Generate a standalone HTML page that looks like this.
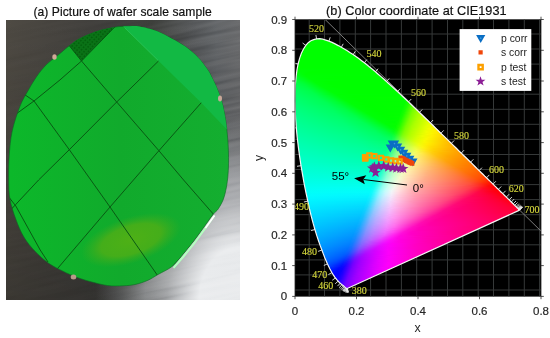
<!DOCTYPE html>
<html><head><meta charset="utf-8"><style>
html,body{margin:0;padding:0}
body{width:550px;height:338px;background:#fff;position:relative;overflow:hidden}
.t{position:absolute;font-family:"Liberation Sans",Arial,sans-serif;color:#111;white-space:nowrap;-webkit-text-stroke:0.2px #111}
#cie i{position:absolute;display:block}
</style></head><body>
<div class="t" style="left:33.4px;top:2.5px;font-size:12.1px;letter-spacing:0.07px;line-height:19px">(a) Picture of wafer scale sample</div>
<div class="t" style="left:326px;top:2.5px;font-size:12.7px;letter-spacing:0.05px;line-height:17px">(b) Color coordinate at CIE1931</div>
<svg width="550" height="338" style="position:absolute;left:0;top:0" viewBox="0 0 550 338">
<defs>
<pattern id="dots" patternUnits="userSpaceOnUse" width="3.2" height="3.2" patternTransform="rotate(40)"><circle cx="1.6" cy="1.6" r="0.9" fill="#005808" fill-opacity="0.75"/></pattern>
<clipPath id="pc"><rect x="6" y="20" width="234" height="280"/></clipPath>
<clipPath id="wc"><path d="M130,26.2C133.4,26.2 134.9,25.8 139.4,26.6C143.9,27.5 151.7,29.3 157.1,31.3C162.5,33.3 167.2,36.2 171.9,38.7C176.6,41.2 180.8,43.4 185.2,46.5C189.5,49.6 194.3,53.6 198,57.5C201.7,61.4 205.2,66.3 207.6,69.7C210,73.1 210.5,74.7 212.2,78.1C213.9,81.5 216,85.7 217.8,90.3C219.6,94.9 221.4,99.6 222.8,105.5C224.2,111.4 225.5,118.1 226.4,125.7C227.3,133.3 228.2,142.5 228.4,150.9C228.7,159.3 228.6,168.6 227.9,176.2C227.2,183.8 225.9,191 224.3,196.4C222.7,201.8 220.4,205.5 218.5,208.5C216.6,211.5 215.4,211.4 213,214.5C210.6,217.6 207.3,222.4 204,227C200.7,231.6 196.7,237.2 193,242C189.3,246.8 185.5,251.4 182,255.5C178.5,259.6 176,263.3 172,266.5C168,269.7 162,272.2 158,274.5C154,276.8 151.7,278.6 147.9,280.3C144.1,282 139.2,283.6 135,284.5C130.8,285.4 127.6,285.6 123,285.8C118.4,286 113,286.2 107.5,285.5C102,284.8 95.2,282.9 90,281.5C84.8,280.1 80.5,278.7 76,277C71.5,275.3 67.6,273.5 63,271.2C58.4,268.9 52.9,266.3 48.3,263C43.7,259.7 39.4,255.9 35.3,251.6C31.2,247.3 27.1,242.4 23.9,237C20.6,231.6 18.1,225.3 15.8,219.1C13.5,212.8 11.2,206 10,199.5C8.8,193 8.8,187.2 8.7,180C8.6,172.8 8.6,164.2 9.2,156C9.8,147.8 10.4,139.4 12.2,131.1C14,122.8 17.3,113.1 20,106.2C22.7,99.3 25.8,94.7 28.6,89.7C31.4,84.7 34,80.4 36.9,76.2C39.8,72 42.8,68.2 46.2,64.8C49.7,61.3 53.6,58.8 57.6,55.5C61.6,52.2 66.3,48 70,45.2C73.7,42.4 75.8,40.7 80,38.5C84.2,36.3 90.5,33.6 95,32C99.5,30.4 103,29.7 107,28.8C111,27.9 114.9,27 118.7,26.6C122.5,26.2 126.5,26.2 130,26.2Z"/></clipPath>
<linearGradient id="bg1" gradientUnits="userSpaceOnUse" x1="6" y1="0" x2="240" y2="0">
<stop offset="0" stop-color="#4c4841"/><stop offset="0.45" stop-color="#3e3d3b"/><stop offset="0.62" stop-color="#383a36"/><stop offset="0.8" stop-color="#4c4e50"/><stop offset="0.9" stop-color="#5a5d60"/><stop offset="1" stop-color="#606163"/></linearGradient>
<linearGradient id="bgv" x1="0" y1="0" x2="0" y2="1"><stop offset="0" stop-color="#000" stop-opacity="0"/><stop offset="1" stop-color="#000" stop-opacity="0.25"/></linearGradient>
<radialGradient id="bgl" gradientUnits="userSpaceOnUse" cx="240" cy="300" r="170" gradientTransform="translate(240 300) scale(1 1.3) translate(-240 -300)">
<stop offset="0" stop-color="#e6e8ea"/><stop offset="0.24" stop-color="#e8eaec"/><stop offset="0.43" stop-color="#dcdee2" stop-opacity="0.66"/><stop offset="0.56" stop-color="#c8cacf" stop-opacity="0.57"/><stop offset="0.7" stop-color="#b0b4b8" stop-opacity="0.27"/><stop offset="0.85" stop-color="#a0a4a8" stop-opacity="0"/></radialGradient>
<linearGradient id="tmg" gradientUnits="userSpaceOnUse" x1="90" y1="0" x2="190" y2="0"><stop offset="0" stop-color="#fff" stop-opacity="0.15"/><stop offset="1" stop-color="#fff"/></linearGradient><mask id="tm" maskUnits="userSpaceOnUse" x="0" y="0" width="550" height="338"><rect x="6" y="20" width="234" height="280" fill="url(#tmg)"/></mask>
<filter id="brush" x="0" y="0" width="1" height="1"><feTurbulence type="fractalNoise" baseFrequency="0.012 0.22" numOctaves="2" seed="7"/><feColorMatrix type="matrix" values="0.6 0.6 0 0 -0.22  0.6 0.6 0 0 -0.22  0.6 0.6 0 0 -0.22  0 0 0 0 1"/></filter>
<linearGradient id="wg" gradientUnits="userSpaceOnUse" x1="10" y1="0" x2="230" y2="0"><stop offset="0" stop-color="#0cb82a"/><stop offset="0.5" stop-color="#11aa2c"/><stop offset="1" stop-color="#14ae30"/></linearGradient>
<radialGradient id="blob" cx="0.5" cy="0.5" r="0.5">
<stop offset="0" stop-color="#4eb016" stop-opacity="1"/><stop offset="0.6" stop-color="#4aae18" stop-opacity="0.9"/><stop offset="1" stop-color="#3aac20" stop-opacity="0"/></radialGradient>
</defs>
<g clip-path="url(#pc)">
<rect x="6" y="20" width="234" height="280" fill="url(#bg1)"/><rect x="6" y="20" width="234" height="280" fill="url(#bgv)"/><rect x="6" y="20" width="234" height="280" fill="url(#bgl)"/><g mask="url(#tm)" style="mix-blend-mode:soft-light"><g transform="rotate(-12 180 150)" opacity="0.55"><rect x="-40" y="-40" width="360" height="400" filter="url(#brush)"/></g></g>
<path d="M130,26.2C133.4,26.2 134.9,25.8 139.4,26.6C143.9,27.5 151.7,29.3 157.1,31.3C162.5,33.3 167.2,36.2 171.9,38.7C176.6,41.2 180.8,43.4 185.2,46.5C189.5,49.6 194.3,53.6 198,57.5C201.7,61.4 205.2,66.3 207.6,69.7C210,73.1 210.5,74.7 212.2,78.1C213.9,81.5 216,85.7 217.8,90.3C219.6,94.9 221.4,99.6 222.8,105.5C224.2,111.4 225.5,118.1 226.4,125.7C227.3,133.3 228.2,142.5 228.4,150.9C228.7,159.3 228.6,168.6 227.9,176.2C227.2,183.8 225.9,191 224.3,196.4C222.7,201.8 220.4,205.5 218.5,208.5C216.6,211.5 215.4,211.4 213,214.5C210.6,217.6 207.3,222.4 204,227C200.7,231.6 196.7,237.2 193,242C189.3,246.8 185.5,251.4 182,255.5C178.5,259.6 176,263.3 172,266.5C168,269.7 162,272.2 158,274.5C154,276.8 151.7,278.6 147.9,280.3C144.1,282 139.2,283.6 135,284.5C130.8,285.4 127.6,285.6 123,285.8C118.4,286 113,286.2 107.5,285.5C102,284.8 95.2,282.9 90,281.5C84.8,280.1 80.5,278.7 76,277C71.5,275.3 67.6,273.5 63,271.2C58.4,268.9 52.9,266.3 48.3,263C43.7,259.7 39.4,255.9 35.3,251.6C31.2,247.3 27.1,242.4 23.9,237C20.6,231.6 18.1,225.3 15.8,219.1C13.5,212.8 11.2,206 10,199.5C8.8,193 8.8,187.2 8.7,180C8.6,172.8 8.6,164.2 9.2,156C9.8,147.8 10.4,139.4 12.2,131.1C14,122.8 17.3,113.1 20,106.2C22.7,99.3 25.8,94.7 28.6,89.7C31.4,84.7 34,80.4 36.9,76.2C39.8,72 42.8,68.2 46.2,64.8C49.7,61.3 53.6,58.8 57.6,55.5C61.6,52.2 66.3,48 70,45.2C73.7,42.4 75.8,40.7 80,38.5C84.2,36.3 90.5,33.6 95,32C99.5,30.4 103,29.7 107,28.8C111,27.9 114.9,27 118.7,26.6C122.5,26.2 126.5,26.2 130,26.2Z" fill="url(#wg)" stroke="#0a6a22" stroke-width="1" stroke-opacity="0.6"/>
<g clip-path="url(#wc)">
<path d="M116,20 L124.6,27.6 158.6,60.9 201.2,102.8 232,135 240,20Z" fill="#12b944"/>
<path d="M60,30 L68.6,44.8 81.5,61 112.7,29.1 112,20Z" fill="#0a7216"/><path d="M60,30 L68.6,44.8 81.5,61 112.7,29.1 112,20Z" fill="url(#dots)"/>
<ellipse cx="131" cy="240" rx="52" ry="23" transform="rotate(-18 131 240)" fill="url(#blob)"/>
<g stroke="#0a5a14" stroke-width="1" fill="none">
<polyline points="60,30 68.6,44.8 81.5,61 116.7,102 158.9,150.7 183.6,180 215,216"/>
<polyline points="15,88 34,101 69.3,149.7 110,207 160,279"/>
<polyline points="8,196 15.8,206 40.2,250 48,262"/>
<polyline points="116,26 112.7,29.1 81.5,61 60,79.9 34,101 5,122"/>
<polyline points="158.6,60.9 116.7,102 69.3,149.7 38.6,180 15.8,204.4 5,216"/>
<polyline points="201.2,102.8 158.9,150.7 110,207 58.1,267.9 50,278"/>
</g>
<path d="M124.6,27.6 158.6,60.9" stroke="#3fd070" stroke-width="1" opacity="0.5"/>
<path d="M213.5,214 L204.5,227 193.5,242 182.5,255.5 172.5,266.5" stroke="#0a6018" stroke-width="1" fill="none"/>
</g>
<path d="M214.5,215.5 L205.5,228 194.5,243 183.5,256.5 173.5,267.8" stroke="#b4ffc0" stroke-width="2" fill="none"/><path d="M214.5,215.5 L205.5,228" stroke="#fff" stroke-width="1.6"/>
<ellipse cx="54.5" cy="57" rx="2.2" ry="2.8" fill="#d0aa98"/>
<ellipse cx="220" cy="98.5" rx="2" ry="3" fill="#c8a898"/>
<ellipse cx="73.5" cy="277" rx="2.8" ry="2.5" fill="#b89a8a"/>
</g>
</svg>
<div style="position:absolute;left:295px;top:19.5px;width:246px;height:276.9px;background:#000"></div>
<svg width="550" height="338" style="position:absolute;left:0;top:0">
<defs><clipPath id="ac"><rect x="295" y="19.5" width="246" height="276.9"/></clipPath></defs>
<g clip-path="url(#ac)">
<path d="M309.2,19.5V296.4M324.5,19.5V296.4M339.9,19.5V296.4M355.3,19.5V296.4M370.6,19.5V296.4M386,19.5V296.4M401.4,19.5V296.4M416.7,19.5V296.4M432.1,19.5V296.4M447.5,19.5V296.4M462.8,19.5V296.4M478.2,19.5V296.4M493.5,19.5V296.4M508.9,19.5V296.4M524.3,19.5V296.4M539.6,19.5V296.4M295,290H541M295,274.9H541M295,259.9H541M295,244.8H541M295,229.8H541M295,214.7H541M295,199.6H541M295,184.6H541M295,169.5H541M295,154.5H541M295,139.4H541M295,124.3H541M295,109.3H541M295,94.2H541M295,79.2H541M295,64.1H541M295,49H541M295,34H541" stroke="#363939" stroke-width="1" fill="none"/>
<path d="M293.8,-11.2L545.8,235.8" stroke="#8a8a8a" stroke-width="0.9"/>
</g></svg>
<div id="cie" style="position:absolute;left:0;top:0;width:550px;height:338px;clip-path:polygon(347.3px 288.5px,347.3px 288.5px,347.3px 288.5px,347.3px 288.5px,347.3px 288.5px,347.3px 288.5px,347.2px 288.5px,347.2px 288.5px,347.2px 288.5px,347.2px 288.5px,347.2px 288.5px,347.2px 288.5px,347.1px 288.5px,347.1px 288.5px,347.1px 288.5px,347.1px 288.5px,347.1px 288.6px,347px 288.6px,347px 288.6px,347px 288.6px,347px 288.6px,346.9px 288.6px,346.9px 288.6px,346.9px 288.6px,346.8px 288.6px,346.8px 288.6px,346.8px 288.6px,346.7px 288.6px,346.7px 288.6px,346.6px 288.5px,346.6px 288.5px,346.5px 288.5px,346.5px 288.5px,346.4px 288.4px,346.3px 288.4px,346.2px 288.3px,346.1px 288.3px,346px 288.2px,345.9px 288.1px,345.8px 288px,345.7px 287.9px,345.6px 287.8px,345.4px 287.7px,345.3px 287.6px,345.1px 287.4px,344.9px 287.3px,344.7px 287.1px,344.5px 286.9px,344.3px 286.7px,344.1px 286.5px,343.9px 286.3px,343.6px 286.1px,343.3px 285.8px,343px 285.6px,342.7px 285.3px,342.3px 285px,341.9px 284.7px,341.5px 284.3px,341.1px 284px,340.7px 283.6px,340.2px 283.2px,339.7px 282.7px,339.2px 282.2px,338.6px 281.7px,338.1px 281.1px,337.5px 280.4px,336.8px 279.7px,336.2px 278.9px,335.4px 278px,334.6px 276.9px,333.8px 275.6px,332.9px 274.2px,331.9px 272.6px,330.9px 270.8px,329.8px 268.8px,328.7px 266.5px,327.5px 263.9px,326.2px 260.9px,324.8px 257.7px,323.4px 254.1px,321.9px 250px,320.2px 245.6px,318.5px 240.7px,316.7px 235.4px,314.9px 229.5px,313.1px 223.2px,311.3px 216.3px,309.5px 208.9px,307.8px 201.1px,306px 192.8px,304.2px 184px,302.6px 174.9px,301px 165.7px,299.6px 156.3px,298.3px 146.7px,297.2px 137.2px,296.3px 127.8px,295.6px 118.7px,295.2px 109.7px,294.9px 101px,295px 92.8px,295.3px 84.9px,296px 77.4px,296.9px 70.4px,298.1px 64px,299.6px 58.4px,301.4px 53.3px,303.5px 49px,305.8px 45.4px,308.2px 42.7px,310.9px 40.8px,313.7px 39.6px,316.6px 38.9px,319.6px 38.7px,322.7px 39.2px,325.8px 40.1px,328.9px 41.1px,332px 42.4px,335.1px 43.9px,338.3px 45.6px,341.3px 47.3px,344.3px 49px,347.3px 50.8px,350.2px 52.7px,353.1px 54.6px,355.9px 56.6px,358.8px 58.6px,361.6px 60.7px,364.4px 62.8px,367.2px 65px,369.9px 67.2px,372.7px 69.5px,375.5px 71.8px,378.2px 74.2px,381px 76.6px,383.7px 79px,386.5px 81.5px,389.2px 84px,392px 86.5px,394.7px 89px,397.5px 91.5px,400.2px 94.1px,403px 96.7px,405.7px 99.3px,408.5px 101.9px,411.2px 104.5px,413.9px 107.1px,416.7px 109.8px,419.4px 112.4px,422.1px 115px,424.9px 117.7px,427.6px 120.3px,430.3px 122.9px,433px 125.5px,435.6px 128.1px,438.3px 130.7px,440.9px 133.3px,443.6px 135.9px,446.2px 138.4px,448.7px 140.9px,451.3px 143.4px,453.8px 145.9px,456.3px 148.3px,458.8px 150.8px,461.2px 153.1px,463.6px 155.5px,466px 157.8px,468.3px 160px,470.6px 162.2px,472.8px 164.4px,474.9px 166.5px,477px 168.6px,479.1px 170.6px,481px 172.5px,482.9px 174.3px,484.7px 176.1px,486.5px 177.8px,488.2px 179.5px,489.9px 181.1px,491.5px 182.7px,493px 184.2px,494.4px 185.6px,495.8px 186.9px,497.1px 188.2px,498.4px 189.4px,499.6px 190.6px,500.7px 191.7px,501.8px 192.7px,502.8px 193.7px,503.7px 194.6px,504.6px 195.5px,505.5px 196.4px,506.3px 197.1px,507.1px 197.9px,507.8px 198.6px,508.5px 199.2px,509.1px 199.9px,509.7px 200.4px,510.3px 201px,510.8px 201.5px,511.3px 202px,511.8px 202.5px,512.3px 203px,512.8px 203.5px,513.2px 203.9px,513.6px 204.3px,514px 204.7px,514.4px 205px,514.7px 205.4px,515.1px 205.7px,515.4px 206px,515.7px 206.3px,516px 206.6px,516.2px 206.8px,516.5px 207px,516.7px 207.3px,516.9px 207.5px,517.1px 207.7px,517.3px 207.8px,517.4px 208px,517.6px 208.2px,517.8px 208.3px,517.9px 208.4px,518px 208.6px,518.1px 208.7px,518.2px 208.8px,518.3px 208.9px,518.4px 208.9px,518.5px 209px,518.5px 209.1px,518.6px 209.2px,518.7px 209.2px,518.7px 209.3px,518.8px 209.3px,518.9px 209.4px,518.9px 209.4px,519px 209.5px,519px 209.5px,519.1px 209.6px,519.1px 209.6px,519.2px 209.7px,519.2px 209.7px,519.3px 209.8px,519.3px 209.8px,519.4px 209.9px,519.4px 209.9px,519.4px 209.9px,519.5px 210px,519.5px 210px,519.5px 210px,519.5px 210px,519.5px 210px,519.5px 210.1px,519.6px 210.1px,519.6px 210.1px,519.6px 210.1px,519.6px 210.1px)"><i style="left:314px;top:38px;width:11px;height:1px;background:linear-gradient(90deg,#0f0 0.5px,#0f0 10.5px)"></i><i style="left:311px;top:39px;width:18px;height:1px;background:linear-gradient(90deg,#0f0 0.5px,#0f0 17.5px)"></i><i style="left:308px;top:40px;width:24px;height:1px;background:linear-gradient(90deg,#0f0 0.5px,#0f0 23.5px)"></i><i style="left:307px;top:41px;width:27px;height:1px;background:linear-gradient(90deg,#0f0 0.5px,#0f0 26.5px)"></i><i style="left:305px;top:42px;width:32px;height:1px;background:linear-gradient(90deg,#0f0 0.5px,#0f0 31.5px)"></i><i style="left:305px;top:43px;width:34px;height:1px;background:linear-gradient(90deg,#0f0 0.5px,#0f0 33.5px)"></i><i style="left:304px;top:44px;width:36px;height:1px;background:linear-gradient(90deg,#0f0 0.5px,#0f0 35.5px)"></i><i style="left:303px;top:45px;width:39px;height:1px;background:linear-gradient(90deg,#0f0 0.5px,#0f0 38.5px)"></i><i style="left:302px;top:46px;width:42px;height:1px;background:linear-gradient(90deg,#0f0 0.5px,#0f0 41.5px)"></i><i style="left:302px;top:47px;width:44px;height:1px;background:linear-gradient(90deg,#0f0 0.5px,#0f0 43.5px)"></i><i style="left:301px;top:48px;width:47px;height:1px;background:linear-gradient(90deg,#0f0 0.5px,#0f0 46.5px)"></i><i style="left:301px;top:49px;width:48px;height:1px;background:linear-gradient(90deg,#0f0 0.5px,#0f0 47.5px)"></i><i style="left:300px;top:50px;width:51px;height:1px;background:linear-gradient(90deg,#0f0 0.5px,#0f0 50.5px)"></i><i style="left:300px;top:51px;width:52px;height:1px;background:linear-gradient(90deg,#0f0 0.5px,#0f0 51.5px)"></i><i style="left:299px;top:52px;width:55px;height:1px;background:linear-gradient(90deg,#0f0 0.5px,#0f0 54.5px)"></i><i style="left:299px;top:53px;width:56px;height:1px;background:linear-gradient(90deg,#0f0 0.5px,#0f0 55.5px)"></i><i style="left:298px;top:54px;width:59px;height:1px;background:linear-gradient(90deg,#0f0 0.5px,#0f0 58.5px)"></i><i style="left:298px;top:55px;width:60px;height:1px;background:linear-gradient(90deg,#0f0 0.5px,#0f0 59.5px)"></i><i style="left:298px;top:56px;width:62px;height:1px;background:linear-gradient(90deg,#0f0 0.5px,#0f0 61.5px)"></i><i style="left:297px;top:57px;width:64px;height:1px;background:linear-gradient(90deg,#0f0 0.5px,#0f0 63.5px)"></i><i style="left:297px;top:58px;width:66px;height:1px;background:linear-gradient(90deg,#0f0 0.5px,#0f0 65.5px)"></i><i style="left:297px;top:59px;width:67px;height:1px;background:linear-gradient(90deg,#0f0 0.5px,#0f0 66.5px)"></i><i style="left:296px;top:60px;width:69px;height:1px;background:linear-gradient(90deg,#0f0 0.5px,#0f0 68.5px)"></i><i style="left:296px;top:61px;width:71px;height:1px;background:linear-gradient(90deg,#0f0 0.5px,#0f0 70.5px)"></i><i style="left:296px;top:62px;width:72px;height:1px;background:linear-gradient(90deg,#0f0 0.5px,#0f0 71.5px)"></i><i style="left:296px;top:63px;width:73px;height:1px;background:linear-gradient(90deg,#0f0 0.5px,#0f0 72.5px)"></i><i style="left:295px;top:64px;width:76px;height:1px;background:linear-gradient(90deg,#0f0 0.5px,#0f0 75.5px)"></i><i style="left:295px;top:65px;width:77px;height:1px;background:linear-gradient(90deg,#0f0 0.5px,#0f0 76.5px)"></i><i style="left:295px;top:66px;width:78px;height:1px;background:linear-gradient(90deg,#0f0 0.5px,#0f0 77.5px)"></i><i style="left:295px;top:67px;width:79px;height:1px;background:linear-gradient(90deg,#0f0 0.5px,#0f0 78.5px)"></i><i style="left:295px;top:68px;width:80px;height:1px;background:linear-gradient(90deg,#00ff01 0.5px,#0f0 79.5px)"></i><i style="left:294px;top:69px;width:82px;height:1px;background:linear-gradient(90deg,#00ff03 0.5px,#0f0 81.5px)"></i><i style="left:294px;top:70px;width:84px;height:1px;background:linear-gradient(90deg,#00ff06 0.5px,#0f0 24.5px,#0f0 83.5px)"></i><i style="left:294px;top:71px;width:85px;height:1px;background:linear-gradient(90deg,#00ff09 0.5px,#0f0 18.5px,#0f0 84.5px)"></i><i style="left:294px;top:72px;width:86px;height:1px;background:linear-gradient(90deg,#00ff0e 0.5px,#0f0 14.5px,#0f0 85.5px)"></i><i style="left:294px;top:73px;width:87px;height:1px;background:linear-gradient(90deg,#00ff14 0.5px,#00ff01 12.5px,#0f0 86.5px)"></i><i style="left:294px;top:74px;width:88px;height:1px;background:linear-gradient(90deg,#00ff1a 0.5px,#00ff02 11.5px,#0f0 87.5px)"></i><i style="left:294px;top:75px;width:90px;height:1px;background:linear-gradient(90deg,#00ff21 0.5px,#00ff03 12.5px,#0f0 89.5px)"></i><i style="left:293px;top:76px;width:92px;height:1px;background:linear-gradient(90deg,#00ff2b 0.5px,#00ff05 13.5px,#0f0 43.5px,#0f0 91.5px)"></i><i style="left:293px;top:77px;width:93px;height:1px;background:linear-gradient(90deg,#00ff32 0.5px,#00ff05 15.5px,#0f0 45.5px,#0f0 92.5px)"></i><i style="left:293px;top:78px;width:94px;height:1px;background:linear-gradient(90deg,#00ff38 0.5px,#00ff06 16.5px,#0f0 34.5px,#0f0 93.5px)"></i><i style="left:293px;top:79px;width:95px;height:1px;background:linear-gradient(90deg,#00ff3d 0.5px,#00ff05 18.5px,#0f0 48.5px,#0f0 94.5px)"></i><i style="left:293px;top:80px;width:96px;height:1px;background:linear-gradient(90deg,#00ff42 0.5px,#00ff20 11.5px,#00ff05 20.5px,#0f0 50.5px,#0f0 95.5px)"></i><i style="left:293px;top:81px;width:97px;height:1px;background:linear-gradient(90deg,#00ff46 0.5px,#00ff2a 10.5px,#00ff08 20.5px,#0f0 33.5px,#0f0 96.5px)"></i><i style="left:293px;top:82px;width:99px;height:1px;background:linear-gradient(90deg,#00ff49 0.5px,#00ff31 10.5px,#00ff07 22.5px,#0f0 38.5px,#0f0 98.5px)"></i><i style="left:293px;top:83px;width:100px;height:1px;background:linear-gradient(90deg,#00ff4d 0.5px,#00ff34 11.5px,#00ff09 23.5px,#0f0 35.5px,#0f0 99.5px)"></i><i style="left:293px;top:84px;width:101px;height:1px;background:linear-gradient(90deg,#00ff50 0.5px,#00ff3a 11.5px,#00ff08 25.5px,#0f0 38.5px,#0f0 100.5px)"></i><i style="left:293px;top:85px;width:102px;height:1px;background:linear-gradient(90deg,#00ff53 0.5px,#00ff39 13.5px,#00ff07 27.5px,#0f0 43.5px,#0f0 101.5px)"></i><i style="left:293px;top:86px;width:103px;height:1px;background:linear-gradient(90deg,#0f5 0.5px,#00ff41 12.5px,#00ff09 28.5px,#0f0 40.5px,#0f0 102.5px)"></i><i style="left:293px;top:87px;width:104px;height:1px;background:linear-gradient(90deg,#00ff58 0.5px,#00ff40 14.5px,#00ff08 30.5px,#0f0 43.5px,#0f0 103.5px)"></i><i style="left:293px;top:88px;width:105px;height:1px;background:linear-gradient(90deg,#00ff5a 0.5px,#00ff45 14.5px,#00ff07 32.5px,#0f0 48.5px,#0f0 104.5px)"></i><i style="left:293px;top:89px;width:106px;height:1px;background:linear-gradient(90deg,#00ff5d 0.5px,#00ff47 15.5px,#00ff07 34.5px,#0f0 50.5px,#0f0 105.5px)"></i><i style="left:293px;top:90px;width:107px;height:1px;background:linear-gradient(90deg,#00ff5f 0.5px,#00ff47 17.5px,#00ff06 36.5px,#0f0 57.5px,#0f0 106.5px)"></i><i style="left:292px;top:91px;width:109px;height:1px;background:linear-gradient(90deg,#00ff62 0.5px,#00ff4b 18.5px,#00ff27 29.5px,#00ff06 39.5px,#0f0 57.5px,#0f0 108.5px)"></i><i style="left:292px;top:92px;width:110px;height:1px;background:linear-gradient(90deg,#00ff64 0.5px,#00ff4a 20.5px,#00ff26 31.5px,#00ff07 40.5px,#0f0 56.5px,#0f0 109.5px)"></i><i style="left:292px;top:93px;width:111px;height:1px;background:linear-gradient(90deg,#0f6 0.5px,#00ff4a 22.5px,#00ff07 42.5px,#0f0 58.5px,#0f0 110.5px)"></i><i style="left:292px;top:94px;width:112px;height:1px;background:linear-gradient(90deg,#00ff68 0.5px,#00ff4c 23.5px,#00ff1b 37.5px,#00ff03 46.5px,#0f0 111.5px)"></i><i style="left:292px;top:95px;width:114px;height:1px;background:linear-gradient(90deg,#00ff6a 0.5px,#00ff4f 23.5px,#00ff2b 35.5px,#00ff07 45.5px,#0f0 61.5px,#0f0 113.5px)"></i><i style="left:292px;top:96px;width:115px;height:1px;background:linear-gradient(90deg,#00ff6c 0.5px,#00ff4f 25.5px,#00ff2d 36.5px,#00ff07 47.5px,#0f0 63.5px,#01ff00 114.5px)"></i><i style="left:292px;top:97px;width:116px;height:1px;background:linear-gradient(90deg,#00ff6e 0.5px,#00ff52 25.5px,#00ff31 37.5px,#00ff08 48.5px,#0f0 61.5px,#04ff00 115.5px)"></i><i style="left:292px;top:98px;width:117px;height:1px;background:linear-gradient(90deg,#00ff70 0.5px,#00ff52 27.5px,#00ff30 39.5px,#00ff07 50.5px,#0f0 66.5px,#03ff00 114.5px,#0bff00 116.5px)"></i><i style="left:292px;top:99px;width:118px;height:1px;background:linear-gradient(90deg,#00ff71 0.5px,#00ff54 28.5px,#0f3 40.5px,#00ff09 51.5px,#0f0 63.5px,#02ff00 113.5px,#15ff00 117.5px)"></i><i style="left:292px;top:100px;width:119px;height:1px;background:linear-gradient(90deg,#00ff73 0.5px,#0f5 29.5px,#00ff35 41.5px,#00ff08 53.5px,#0f0 66.5px,#04ff00 113.5px,#1aff00 117.5px,#24ff00 118.5px)"></i><i style="left:292px;top:101px;width:120px;height:1px;background:linear-gradient(90deg,#00ff75 0.5px,#0f5 31.5px,#00ff34 43.5px,#00ff08 55.5px,#0f0 68.5px,#02ff00 112.5px,#16ff00 116.5px,#36ff00 119.5px)"></i><i style="left:292px;top:102px;width:121px;height:1px;background:linear-gradient(90deg,#00ff76 0.5px,#0f5 33.5px,#00ff34 45.5px,#00ff07 57.5px,#0f0 73.5px,#03ff00 112.5px,#1aff00 116.5px,#4aff00 120.5px)"></i><i style="left:292px;top:103px;width:122px;height:1px;background:linear-gradient(90deg,#00ff78 0.5px,#0f5 35.5px,#00ff2e 48.5px,#00ff06 59.5px,#0f0 77.5px,#04ff00 112.5px,#1fff00 116.5px,#5cff00 121.5px)"></i><i style="left:292px;top:104px;width:123px;height:1px;background:linear-gradient(90deg,#00ff7a 0.5px,#00ff56 36.5px,#00ff36 48.5px,#00ff0a 59.5px,#0f0 71.5px,#03ff00 111.5px,#1aff00 115.5px,#6dff00 122.5px)"></i><i style="left:292px;top:105px;width:124px;height:1px;background:linear-gradient(90deg,#00ff7b 0.5px,#00ff5b 35.5px,#00ff3c 48.5px,#00ff07 62.5px,#0f0 78.5px,#04ff00 111.5px,#1eff00 115.5px,#72ff00 122.5px,#7aff00 123.5px)"></i><i style="left:293px;top:106px;width:124px;height:1px;background:linear-gradient(90deg,#00ff7d 0.5px,#00ff5b 36.5px,#00ff3b 49.5px,#00ff09 62.5px,#0f0 74.5px,#02ff00 109.5px,#18ff00 113.5px,#6dff00 120.5px,#86ff00 123.5px)"></i><i style="left:293px;top:107px;width:125px;height:1px;background:linear-gradient(90deg,#00ff7f 0.5px,#00ff5b 38.5px,#00ff3a 51.5px,#00ff08 64.5px,#0f0 77.5px,#03ff00 109.5px,#1cff00 113.5px,#72ff00 120.5px,#8fff00 124.5px)"></i><i style="left:293px;top:108px;width:126px;height:1px;background:linear-gradient(90deg,#00ff80 0.5px,#00ff5f 37.5px,#0f4 50.5px,#00ff07 66.5px,#0f0 82.5px,#04ff00 109.5px,#17ff00 112.5px,#7f0 120.5px,#9f0 125.5px)"></i><i style="left:293px;top:109px;width:127px;height:1px;background:linear-gradient(90deg,#00ff82 0.5px,#00ff5f 39.5px,#00ff40 53.5px,#00ff09 67.5px,#0f0 79.5px,#03ff00 108.5px,#1f0 111.5px,#40ff00 115.5px,#7bff00 120.5px,#a1ff00 126.5px)"></i><i style="left:293px;top:110px;width:128px;height:1px;background:linear-gradient(90deg,#00ff83 0.5px,#00ff62 39.5px,#00ff46 53.5px,#00ff08 69.5px,#0f0 82.5px,#03ff00 108.5px,#1fff00 112.5px,#76ff00 119.5px,#9fff00 125.5px,#a8ff00 127.5px)"></i><i style="left:293px;top:111px;width:129px;height:1px;background:linear-gradient(90deg,#00ff85 0.5px,#00ff62 41.5px,#00ff45 55.5px,#00ff0a 70.5px,#0f0 82.5px,#02ff00 107.5px,#18ff00 111.5px,#7aff00 119.5px,#a7ff00 126.5px,#b0ff00 128.5px)"></i><i style="left:293px;top:112px;width:130px;height:1px;background:linear-gradient(90deg,#00ff86 0.5px,#00ff65 40.5px,#00ff4a 55.5px,#00ff07 73.5px,#0f0 89.5px,#03ff00 107.5px,#13ff00 110.5px,#50ff00 115.5px,#7eff00 119.5px,#aeff00 127.5px,#b7ff00 129.5px)"></i><i style="left:293px;top:113px;width:131px;height:1px;background:linear-gradient(90deg,#0f8 0.5px,#0f6 42.5px,#00ff47 58.5px,#00ff08 74.5px,#0f0 88.5px,#04ff00 107.5px,#20ff00 111.5px,#79ff00 118.5px,#a2ff00 124.5px,#bdff00 130.5px)"></i><i style="left:293px;top:114px;width:132px;height:1px;background:linear-gradient(90deg,#00ff89 0.5px,#00ff67 43.5px,#00ff49 59.5px,#00ff08 76.5px,#0f0 89.5px,#03ff00 106.5px,#1f0 109.5px,#3fff00 113.5px,#7dff00 118.5px,#af0 125.5px,#c3ff00 131.5px)"></i><i style="left:293px;top:115px;width:133px;height:1px;background:linear-gradient(90deg,#00ff8b 0.5px,#00ff67 45.5px,#00ff49 61.5px,#00ff07 78.5px,#0f0 94.5px,#03ff00 106.5px,#14ff00 109.5px,#7f0 117.5px,#a2ff00 123.5px,#c9ff00 132.5px)"></i><i style="left:293px;top:116px;width:135px;height:1px;background:linear-gradient(90deg,#00ff8c 0.5px,#00ff6b 44.5px,#00ff4b 62.5px,#00ff09 79.5px,#0f0 91.5px,#05ff00 106.5px,#18ff00 109.5px,#7bff00 117.5px,#af0 124.5px,#d3ff00 134.5px)"></i><i style="left:293px;top:117px;width:136px;height:1px;background:linear-gradient(90deg,#00ff8e 0.5px,#00ff6a 47.5px,#00ff4d 63.5px,#00ff08 81.5px,#0f0 94.5px,#03ff00 105.5px,#12ff00 108.5px,#42ff00 112.5px,#7fff00 117.5px,#acff00 124.5px,#d9ff00 135.5px)"></i><i style="left:293px;top:118px;width:137px;height:1px;background:linear-gradient(90deg,#00ff8f 0.5px,#00ff6d 46.5px,#00ff52 63.5px,#00ff29 74.5px,#00ff07 83.5px,#0f0 99.5px,#04ff00 105.5px,#16ff00 108.5px,#7aff00 116.5px,#af0 123.5px,#deff00 136.5px)"></i><i style="left:293px;top:119px;width:138px;height:1px;background:linear-gradient(90deg,#00ff90 0.5px,#00ff6f 47.5px,#00ff4f 66.5px,#00ff09 84.5px,#0f0 96.5px,#05ff00 105.5px,#1aff00 108.5px,#7eff00 116.5px,#b1ff00 124.5px,#e4ff00 137.5px)"></i><i style="left:293px;top:120px;width:139px;height:1px;background:linear-gradient(90deg,#00ff92 0.5px,#00ff6f 49.5px,#00ff51 67.5px,#00ff06 87.5px,#03ff00 104.5px,#14ff00 107.5px,#45ff00 111.5px,#82ff00 116.5px,#b8ff00 125.5px,#e9ff00 138.5px)"></i><i style="left:293px;top:121px;width:140px;height:1px;background:linear-gradient(90deg,#00ff93 0.5px,#00ff72 48.5px,#00ff56 67.5px,#00ff2a 79.5px,#00ff08 88.5px,#0f0 101.5px,#09ff00 105.5px,#2f0 108.5px,#7cff00 115.5px,#acff00 122.5px,#ecff00 138.5px,#efff00 139.5px)"></i><i style="left:293px;top:122px;width:141px;height:1px;background:linear-gradient(90deg,#00ff95 0.5px,#00ff73 49.5px,#00ff56 69.5px,#00ff2e 80.5px,#00ff09 89.5px,#0f0 101.5px,#0bff00 105.5px,#27ff00 108.5px,#76ff00 114.5px,#a3ff00 120.5px,#e1ff00 134.5px,#f3fe00 140.5px)"></i><i style="left:293px;top:123px;width:142px;height:1px;background:linear-gradient(90deg,#00ff96 0.5px,#00ff74 51.5px,#00ff53 72.5px,#00ff23 84.5px,#00ff06 92.5px,#04ff00 103.5px,#15ff00 106.5px,#7bff00 114.5px,#acff00 121.5px,#f0ff00 138.5px,#f8fd00 141.5px)"></i><i style="left:294px;top:124px;width:142px;height:1px;background:linear-gradient(90deg,#00ff97 0.5px,#00ff75 51.5px,#0f5 72.5px,#00ff30 82.5px,#00ff08 92.5px,#05ff00 102.5px,#19ff00 105.5px,#7fff00 113.5px,#aeff00 120.5px,#f2ff00 137.5px,#fbfb00 141.5px)"></i><i style="left:294px;top:125px;width:143px;height:1px;background:linear-gradient(90deg,#0f9 0.5px,#00ff76 52.5px,#00ff57 73.5px,#0f3 83.5px,#00ff07 94.5px,#03ff00 101.5px,#1dff00 105.5px,#79ff00 112.5px,#a6ff00 118.5px,#e7ff00 133.5px,#fdf800 142.5px)"></i><i style="left:294px;top:126px;width:144px;height:1px;background:linear-gradient(90deg,#00ff9a 0.5px,#0f7 54.5px,#00ff57 75.5px,#00ff32 85.5px,#00ff06 96.5px,#04ff01 101.5px,#2f0 105.5px,#73ff00 111.5px,#a3ff00 117.5px,#e6ff00 132.5px,#fef600 142.5px,#fff300 143.5px)"></i><i style="left:294px;top:127px;width:145px;height:1px;background:linear-gradient(90deg,#00ff9b 0.5px,#00ff7b 52.5px,#00ff5b 75.5px,#00ff3b 85.5px,#00ff0a 96.5px,#06ff02 101.5px,#1bff00 104.5px,#7f0 111.5px,#a5ff00 117.5px,#e4ff00 131.5px,#fcf800 140.5px,#ffef00 144.5px)"></i><i style="left:294px;top:128px;width:146px;height:1px;background:linear-gradient(90deg,#00ff9d 0.5px,#00ff7b 54.5px,#00ff5b 77.5px,#00ff35 88.5px,#00ff0a 98.5px,#0dff03 102.5px,#39ff00 106.5px,#7cff00 111.5px,#aeff00 118.5px,#f1ff00 134.5px,#ffed00 144.5px,#ffea00 145.5px)"></i><i style="left:294px;top:129px;width:147px;height:1px;background:linear-gradient(90deg,#00ff9e 0.5px,#00ff7e 53.5px,#00ff5f 77.5px,#00ff3d 88.5px,#02ff0c 99.5px,#19ff04 103.5px,#80ff00 111.5px,#b6ff00 119.5px,#f6fd00 135.5px,#ffe600 146.5px)"></i><i style="left:294px;top:130px;width:148px;height:1px;background:linear-gradient(90deg,#00ffa0 0.5px,#00ff7d 57.5px,#00ff5b 81.5px,#00ff37 91.5px,#06ff0e 100.5px,#1dff06 103.5px,#7aff00 110.5px,#a8ff00 116.5px,#ebff00 131.5px,#fff000 141.5px,#ffe100 147.5px)"></i><i style="left:294px;top:131px;width:149px;height:1px;background:linear-gradient(90deg,#00ffa1 0.5px,#00ff80 56.5px,#00ff5f 81.5px,#00ff3f 91.5px,#04ff18 99.5px,#17ff0d 102.5px,#7fff01 110.5px,#b0ff00 117.5px,#f0ff00 132.5px,#fe0 141.5px,#fd0 148.5px)"></i><i style="left:294px;top:132px;width:150px;height:1px;background:linear-gradient(90deg,#00ffa2 0.5px,#00ff82 56.5px,#00ff63 81.5px,#00ff42 92.5px,#06ff20 99.5px,#1bff13 102.5px,#83ff02 110.5px,#b3ff00 117.5px,#f2fe00 132.5px,#ffec00 141.5px,#ffd900 149.5px)"></i><i style="left:294px;top:133px;width:151px;height:1px;background:linear-gradient(90deg,#00ffa4 0.5px,#00ff82 59.5px,#00ff61 84.5px,#00ff3d 95.5px,#08ff29 99.5px,#1fff1a 102.5px,#7dff05 109.5px,#af0 115.5px,#e6ff00 128.5px,#fdf600 137.5px,#ffd500 150.5px)"></i><i style="left:294px;top:134px;width:152px;height:1px;background:linear-gradient(90deg,#00ffa5 0.5px,#00ff85 58.5px,#00ff63 85.5px,#01ff41 96.5px,#10ff2c 100.5px,#3fff19 104.5px,#82ff08 109.5px,#b8ff00 117.5px,#f8fc00 133.5px,#ffe100 144.5px,#ffd100 151.5px)"></i><i style="left:294px;top:135px;width:153px;height:1px;background:linear-gradient(90deg,#00ffa6 0.5px,#00ff87 58.5px,#00ff65 86.5px,#03ff44 97.5px,#1dff30 101.5px,#7bff10 108.5px,#aaff03 114.5px,#ebff00 128.5px,#ffef00 138.5px,#ffcd00 152.5px)"></i><i style="left:295px;top:136px;width:153px;height:1px;background:linear-gradient(90deg,#00ffa7 0.5px,#00ff89 57.5px,#00ff69 85.5px,#04ff4c 96.5px,#17ff3e 99.5px,#80ff16 107.5px,#adff05 113.5px,#edff00 127.5px,#fff000 136.5px,#ffca00 152.5px)"></i><i style="left:295px;top:137px;width:154px;height:1px;background:linear-gradient(90deg,#00ffa9 0.5px,#0f8 61.5px,#00ff67 88.5px,#06ff52 96.5px,#1bff46 99.5px,#7aff23 106.5px,#aaff0b 112.5px,#dfff00 123.5px,#fdf600 133.5px,#ffc600 153.5px)"></i><i style="left:295px;top:138px;width:155px;height:1px;background:linear-gradient(90deg,#0fa 0.5px,#00ff8a 61.5px,#00ff69 89.5px,#07ff58 96.5px,#1fff4e 99.5px,#7eff2c 106.5px,#adff10 112.5px,#d9ff01 121.5px,#fbf900 131.5px,#ffc300 154.5px)"></i><i style="left:295px;top:139px;width:156px;height:1px;background:linear-gradient(90deg,#00ffab 0.5px,#00ff8b 63.5px,#00ff69 91.5px,#09ff5e 96.5px,#23ff55 99.5px,#83ff36 106.5px,#bbff10 114.5px,#e4ff00 123.5px,#fcf800 131.5px,#ffc100 154.5px,#ffbf00 155.5px)"></i><i style="left:295px;top:140px;width:157px;height:1px;background:linear-gradient(90deg,#00ffad 0.5px,#00ff8d 63.5px,#00ff6d 91.5px,#0bff63 96.5px,#28ff5b 99.5px,#7dff44 105.5px,#acff25 111.5px,#d5ff06 119.5px,#f9fa00 129.5px,#ffd300 144.5px,#ffbc00 156.5px)"></i><i style="left:295px;top:141px;width:158px;height:1px;background:linear-gradient(90deg,#00ffae 0.5px,#00ff8d 66.5px,#04ff6c 94.5px,#16ff65 97.5px,#81ff4c 105.5px,#afff2e 111.5px,#d8ff0a 119.5px,#faf900 129.5px,#ffc700 149.5px,#ffb800 157.5px)"></i><i style="left:295px;top:142px;width:159px;height:1px;background:linear-gradient(90deg,#00ffb0 0.5px,#00ff8f 66.5px,#02ff71 93.5px,#1aff6a 97.5px,#86ff53 105.5px,#b8ff32 112.5px,#e3ff0a 121.5px,#fdf600 130.5px,#ffbf00 152.5px,#ffb500 158.5px)"></i><i style="left:295px;top:143px;width:160px;height:1px;background:linear-gradient(90deg,#00ffb1 0.5px,#00ff92 65.5px,#03ff75 93.5px,#14ff6f 96.5px,#57ff65 101.5px,#8aff5a 105.5px,#c0ff36 113.5px,#edff09 123.5px,#fe0 132.5px,#ffba00 154.5px,#ffb200 159.5px)"></i><i style="left:296px;top:144px;width:160px;height:1px;background:linear-gradient(90deg,#00ffb2 0.5px,#00ff93 66.5px,#04ff78 92.5px,#18ff73 95.5px,#84ff63 103.5px,#b2ff4e 109.5px,#effe0e 122.5px,#ffef01 130.5px,#ffba00 152.5px,#ffaf00 159.5px)"></i><i style="left:296px;top:145px;width:161px;height:1px;background:linear-gradient(90deg,#00ffb3 0.5px,#00ff95 66.5px,#03ff7d 91.5px,#12ff78 94.5px,#45ff72 98.5px,#89ff68 103.5px,#bbff52 110.5px,#f5fd10 123.5px,#ffe700 132.5px,#ffb500 154.5px,#ffac00 160.5px)"></i><i style="left:296px;top:146px;width:162px;height:1px;background:linear-gradient(90deg,#00ffb5 0.5px,#00ff97 66.5px,#04ff80 91.5px,#16ff7c 94.5px,#83ff6e 102.5px,#b2ff60 108.5px,#e4ff32 118.5px,#fcf60c 126.5px,#ffdc00 135.5px,#ffa900 161.5px)"></i><i style="left:296px;top:147px;width:163px;height:1px;background:linear-gradient(90deg,#00ffb6 0.5px,#00ff98 68.5px,#02ff84 90.5px,#1aff7f 94.5px,#87ff73 102.5px,#b5ff66 108.5px,#e7ff3c 118.5px,#fdf512 126.5px,#ffdd01 134.5px,#ffa700 161.5px,#ffa600 162.5px)"></i><i style="left:296px;top:148px;width:164px;height:1px;background:linear-gradient(90deg,#00ffb7 0.5px,#00ff9b 67.5px,#03ff87 90.5px,#14ff83 93.5px,#49ff7e 97.5px,#8cff76 102.5px,#c3ff65 110.5px,#edff40 119.5px,#ffed10 128.5px,#ffd300 137.5px,#ffa300 163.5px)"></i><i style="left:296px;top:149px;width:165px;height:1px;background:linear-gradient(90deg,#00ffb9 0.5px,#00ff9b 70.5px,#04ff8a 90.5px,#18ff86 93.5px,#5eff80 98.5px,#90ff7a 102.5px,#c6ff6b 110.5px,#f3fd44 120.5px,#ffe712 129.5px,#ffd101 137.5px,#ffa000 164.5px)"></i><i style="left:296px;top:150px;width:166px;height:1px;background:linear-gradient(90deg,#00ffba 0.5px,#00ff9d 71.5px,#03ff8e 89.5px,#12ff8b 92.5px,#46ff86 96.5px,#8aff7f 101.5px,#b8ff76 107.5px,#f1fe52 119.5px,#ffec24 127.5px,#ffd707 134.5px,#ffb400 150.5px,#ff9d00 165.5px)"></i><i style="left:296px;top:151px;width:167px;height:1px;background:linear-gradient(90deg,#00ffbc 0.5px,#00ff9e 72.5px,#04ff90 89.5px,#16ff8d 92.5px,#8fff83 101.5px,#ccff74 110.5px,#f7fb55 120.5px,#ffe01c 130.5px,#ffcb03 138.5px,#ff9a00 166.5px)"></i><i style="left:297px;top:152px;width:167px;height:1px;background:linear-gradient(90deg,#00ffbd 0.5px,#00ff9f 73.5px,#05ff93 88.5px,#1aff90 91.5px,#89ff87 99.5px,#b7ff7f 105.5px,#f2fd64 117.5px,#ffea3c 125.5px,#ffd10e 134.5px,#ffbd00 143.5px,#ff9700 166.5px)"></i><i style="left:297px;top:153px;width:168px;height:1px;background:linear-gradient(90deg,#00ffbe 0.5px,#00ffa2 72.5px,#03ff97 87.5px,#14ff94 90.5px,#49ff90 94.5px,#82ff8c 98.5px,#aeff86 103.5px,#edfe70 115.5px,#ffef50 123.5px,#ffcc10 135.5px,#ffbb01 143.5px,#ff9400 167.5px)"></i><i style="left:297px;top:154px;width:170px;height:1px;background:linear-gradient(90deg,#00ffbf 0.5px,#00ffa4 73.5px,#04ff99 87.5px,#18ff97 90.5px,#87ff8f 98.5px,#b7ff88 104.5px,#f3fd72 116.5px,#ffe64d 125.5px,#ffc60e 137.5px,#ffb200 147.5px,#ff9000 169.5px)"></i><i style="left:297px;top:155px;width:171px;height:1px;background:linear-gradient(90deg,#00ffc1 0.5px,#00ffa5 75.5px,#03ff9d 86.5px,#12ff9a 89.5px,#46ff97 93.5px,#8cff92 98.5px,#c1ff8a 105.5px,#f5fc76 116.5px,#ffe14e 126.5px,#ffc00d 139.5px,#ffac00 149.5px,#ff8d00 170.5px)"></i><i style="left:297px;top:156px;width:171px;height:1px;background:linear-gradient(90deg,#00ffc2 0.5px,#00ffa7 75.5px,#04ff9f 86.5px,#16ff9d 89.5px,#5cff99 94.5px,#90ff95 98.5px,#c4ff8d 105.5px,#f7fb7a 116.5px,#ffde55 126.5px,#ffbc0f 140.5px,#ffa900 150.5px,#ff8b00 170.5px)"></i><i style="left:297px;top:157px;width:172px;height:1px;background:linear-gradient(90deg,#00ffc4 0.5px,#00ffa8 77.5px,#05ffa2 86.5px,#1affa0 89.5px,#53ff9c 93.5px,#8bff99 97.5px,#c1ff92 104.5px,#f5fc81 115.5px,#ffdf5e 125.5px,#ffb60e 142.5px,#ffa400 152.5px,#f80 171.5px)"></i><i style="left:297px;top:158px;width:173px;height:1px;background:linear-gradient(90deg,#00ffc5 0.5px,#00ffab 76.5px,#03ffa5 85.5px,#14ffa3 88.5px,#49ffa0 92.5px,#8fff9c 97.5px,#c4ff95 104.5px,#f4fc87 114.5px,#ffe66e 122.5px,#ffc131 136.5px,#ffaf0a 145.5px,#ff9a00 157.5px,#ff8500 172.5px)"></i><i style="left:298px;top:159px;width:174px;height:1px;background:linear-gradient(90deg,#00ffc6 0.5px,#00ffac 78.5px,#04ffa8 84.5px,#18ffa6 87.5px,#5fffa2 92.5px,#94ff9f 96.5px,#cdff97 104.5px,#f6fb8a 113.5px,#ffe16e 122.5px,#ffbd33 136.5px,#ffa909 146.5px,#ff9600 158.5px,#ff8100 173.5px)"></i><i style="left:298px;top:160px;width:175px;height:1px;background:linear-gradient(90deg,#00ffc8 0.5px,#00ffae 78.5px,#06ffaa 84.5px,#1cffa8 87.5px,#8effa2 95.5px,#c4ff9c 102.5px,#f5fc8f 112.5px,#ffdf71 122.5px,#ffbb3b 136.5px,#ffa60b 147.5px,#ff9400 158.5px,#ff7e00 174.5px)"></i><i style="left:298px;top:161px;width:176px;height:1px;background:linear-gradient(90deg,#00ffc9 0.5px,#00ffaf 81.5px,#0dffac 85.5px,#2dffaa 88.5px,#87ffa6 94.5px,#b4ffa2 99.5px,#f0fe96 110.5px,#ffea81 118.5px,#ffb73e 137.5px,#ffa20c 148.5px,#ff9100 159.5px,#ff7b00 175.5px)"></i><i style="left:298px;top:162px;width:177px;height:1px;background:linear-gradient(90deg,#00ffca 0.5px,#00ffb2 80.5px,#09ffaf 84.5px,#25ffae 87.5px,#8dffa9 94.5px,#c4ffa3 101.5px,#f2fd99 110.5px,#ffe784 118.5px,#ffb340 138.5px,#ff9d0b 150.5px,#ff8d00 161.5px,#ff7800 176.5px)"></i><i style="left:298px;top:163px;width:178px;height:1px;background:linear-gradient(90deg,#0fc 0.5px,#03ffb3 82.5px,#14ffb1 85.5px,#49ffaf 89.5px,#86ffac 93.5px,#b3ffa9 98.5px,#edfea0 108.5px,#ffec8c 116.5px,#ffb751 135.5px,#ff980b 152.5px,#f80 163.5px,#ff7500 177.5px)"></i><i style="left:298px;top:164px;width:179px;height:1px;background:linear-gradient(90deg,#00ffcd 0.5px,#01ffb6 81.5px,#0effb4 84.5px,#40ffb2 88.5px,#8bffaf 93.5px,#beffab 99.5px,#f3fca1 109.5px,#ffe68b 117.5px,#ffb14f 137.5px,#ff9409 154.5px,#ff8100 167.5px,#ff7200 178.5px)"></i><i style="left:299px;top:165px;width:179px;height:1px;background:linear-gradient(90deg,#00ffcf 0.5px,#02ffb8 80.5px,#11ffb7 83.5px,#46ffb5 87.5px,#90ffb2 92.5px,#c8ffad 99.5px,#f5fba4 108.5px,#ffdd87 118.5px,#ffac4d 138.5px,#ff900b 154.5px,#ff8000 165.5px,#ff6f00 178.5px)"></i><i style="left:299px;top:166px;width:180px;height:1px;background:linear-gradient(90deg,#00ffd0 0.5px,#03ffbb 80.5px,#15ffb9 83.5px,#4dffb7 87.5px,#89ffb5 91.5px,#b7ffb2 96.5px,#f0fdaa 106.5px,#ffe895 114.5px,#ffb663 132.5px,#ff9c32 146.5px,#ff8c0a 156.5px,#ff7b00 168.5px,#ff6c00 179.5px)"></i><i style="left:299px;top:167px;width:181px;height:1px;background:linear-gradient(90deg,#00ffd2 0.5px,#04ffbd 80.5px,#19ffbc 83.5px,#54ffba 87.5px,#8fffb8 91.5px,#c1ffb4 97.5px,#f2fcad 106.5px,#ffe597 114.5px,#ffb263 133.5px,#ff9835 147.5px,#ff8709 158.5px,#ff7500 171.5px,#ff6800 180.5px)"></i><i style="left:299px;top:168px;width:182px;height:1px;background:linear-gradient(90deg,#00ffd3 0.5px,#03ffc0 79.5px,#1dffbf 83.5px,#94ffbb 91.5px,#d2ffb6 99.5px,#f7f9ad 107.5px,#ffd98f 117.5px,#ffa456 139.5px,#ff8b1d 154.5px,#ff7f05 162.5px,#ff6500 181.5px)"></i><i style="left:299px;top:169px;width:183px;height:1px;background:linear-gradient(90deg,#00ffd4 0.5px,#04ffc3 79.5px,#17ffc1 82.5px,#62ffbf 87.5px,#99ffbd 91.5px,#d5ffb9 99.5px,#f6fab2 106.5px,#ffdd97 115.5px,#ffa65e 137.5px,#ff8e31 151.5px,#ff7e08 162.5px,#ff6b00 175.5px,#ff6200 182.5px)"></i><i style="left:299px;top:170px;width:184px;height:1px;background:linear-gradient(90deg,#00ffd6 0.5px,#02ffc6 78.5px,#11ffc4 81.5px,#46ffc3 85.5px,#86ffc1 89.5px,#b7ffbf 94.5px,#edfeb9 103.5px,#feeda9 110.5px,#ffb776 128.5px,#ff903f 149.5px,#ff7a09 163.5px,#ff6800 176.5px,#ff5e00 183.5px)"></i><i style="left:300px;top:171px;width:184px;height:1px;background:linear-gradient(90deg,#00ffd7 0.5px,#03ffc8 77.5px,#15ffc7 80.5px,#4dffc5 84.5px,#8bffc4 88.5px,#bbffc2 93.5px,#f0fdbc 102.5px,#ffe6a7 110.5px,#ffb376 128.5px,#ff8b3d 150.5px,#ff7608 164.5px,#ff5f00 180.5px,#ff5a00 183.5px)"></i><i style="left:300px;top:172px;width:185px;height:1px;background:linear-gradient(90deg,#00ffd9 0.5px,#04ffca 77.5px,#19ffc9 80.5px,#54ffc8 84.5px,#91ffc7 88.5px,#c5ffc4 94.5px,#f2fcbe 102.5px,#ffe8ab 109.5px,#ffb57c 126.5px,#ff873f 151.5px,#ff720a 165.5px,#ff6100 177.5px,#ff5600 184.5px)"></i><i style="left:300px;top:173px;width:186px;height:1px;background:linear-gradient(90deg,#00ffda 0.5px,#03ffcd 76.5px,#13ffcc 79.5px,#3affcb 82.5px,#8affca 87.5px,#bbffc8 92.5px,#f0fcc2 101.5px,#ffe9b0 108.5px,#ffb37e 126.5px,#ff8440 152.5px,#ff6d09 167.5px,#ff5a00 180.5px,#ff5200 185.5px)"></i><i style="left:300px;top:174px;width:187px;height:1px;background:linear-gradient(90deg,#00ffdc 0.5px,#04ffd0 76.5px,#17ffcf 79.5px,#51ffce 83.5px,#8fffcc 87.5px,#c6ffca 93.5px,#f2fbc5 101.5px,#ffe6b1 108.5px,#ffb180 126.5px,#ff7f3f 154.5px,#ff6808 169.5px,#ff4f00 185.5px,#ff4d00 186.5px)"></i><i style="left:300px;top:175px;width:188px;height:1px;background:linear-gradient(90deg,#0fd 0.5px,#02ffd2 75.5px,#11ffd2 78.5px,#47ffd1 82.5px,#95ffcf 87.5px,#c9ffcd 93.5px,#f5fac7 101.5px,#ffdfae 109.5px,#ffab7d 128.5px,#ff7b40 155.5px,#ff6307 171.5px,#ff4800 187.5px)"></i><i style="left:300px;top:176px;width:189px;height:1px;background:linear-gradient(90deg,#00ffdf 0.5px,#03ffd5 75.5px,#15ffd4 78.5px,#4effd3 82.5px,#8effd2 86.5px,#beffd1 91.5px,#effccc 99.5px,#ffe5b6 107.5px,#ffaf85 125.5px,#ff763f 157.5px,#ff5f09 172.5px,#ff4800 185.5px,#ff4200 188.5px)"></i><i style="left:300px;top:177px;width:190px;height:1px;background:linear-gradient(90deg,#00ffe0 0.5px,#04ffd7 75.5px,#19ffd7 78.5px,#55ffd6 82.5px,#93ffd5 86.5px,#caffd4 92.5px,#f2fbcf 99.5px,#ffe6bb 106.5px,#ffad86 125.5px,#ff7340 158.5px,#ff5a08 174.5px,#ff3a00 189.5px)"></i><i style="left:301px;top:178px;width:190px;height:1px;background:linear-gradient(90deg,#00ffe2 0.5px,#03ffda 73.5px,#13ffda 76.5px,#4bffd9 80.5px,#99ffd8 85.5px,#cdffd7 91.5px,#f4fad1 98.5px,#ffdfb8 106.5px,#ffab88 124.5px,#ff6c3c 160.5px,#ff5407 175.5px,#ff3100 189.5px)"></i><i style="left:301px;top:179px;width:191px;height:1px;background:linear-gradient(90deg,#00ffe4 0.5px,#04ffdd 73.5px,#17ffdc 76.5px,#52ffdc 80.5px,#92ffdb 84.5px,#c3ffda 89.5px,#f2fbd5 97.5px,#ffe4c0 104.5px,#ffab8b 123.5px,#ff6a40 160.5px,#ff4c06 177.5px,#ff2700 190.5px)"></i><i style="left:301px;top:180px;width:192px;height:1px;background:linear-gradient(90deg,#00ffe5 0.5px,#02ffdf 72.5px,#11ffdf 75.5px,#37ffdf 78.5px,#8affde 83.5px,#bfffdd 88.5px,#f1fcd9 96.5px,#ffe5c4 103.5px,#ffb295 119.5px,#ff6c4b 157.5px,#ff5722 170.5px,#ff4205 180.5px,#ff1c00 191.5px)"></i><i style="left:301px;top:181px;width:193px;height:1px;background:linear-gradient(90deg,#00ffe7 0.5px,#03ffe2 72.5px,#15ffe2 75.5px,#4fffe1 79.5px,#90ffe1 83.5px,#c3ffe0 88.5px,#f3fadb 96.5px,#ffe2c5 103.5px,#ffac92 121.5px,#ff6a4e 157.5px,#ff5224 171.5px,#ff3a05 181.5px,#ff1200 192.5px)"></i><i style="left:301px;top:182px;width:194px;height:1px;background:linear-gradient(90deg,#00ffe8 0.5px,#04ffe5 72.5px,#19ffe4 75.5px,#56ffe4 79.5px,#96ffe4 83.5px,#c7ffe3 88.5px,#f2fbdf 95.5px,#ffe4c9 102.5px,#ffb39c 117.5px,#ff735e 150.5px,#ff5535 168.5px,#ff3006 182.5px,#ff0b00 193.5px)"></i><i style="left:301px;top:183px;width:195px;height:1px;background:linear-gradient(90deg,#00ffea 0.5px,#02ffe7 71.5px,#13ffe7 74.5px,#3bffe7 77.5px,#8fffe7 82.5px,#c3ffe6 87.5px,#effce3 94.5px,#fee9d2 100.5px,#ffb6a2 115.5px,#ff7463 148.5px,#ff523a 168.5px,#ff2206 184.5px,#ff0500 194.5px)"></i><i style="left:302px;top:184px;width:195px;height:1px;background:linear-gradient(90deg,#00ffec 0.5px,#04ffea 70.5px,#17ffea 73.5px,#53ffea 77.5px,#95ffea 81.5px,#cfffe9 87.5px,#f6f8e3 94.5px,#ffd6c3 103.5px,#ffa596 120.5px,#ff4c3c 168.5px,#ff1807 184.5px,#ff0200 194.5px)"></i><i style="left:302px;top:185px;width:196px;height:1px;background:linear-gradient(90deg,#00ffed 0.5px,#02ffed 69.5px,#11ffed 72.5px,#38ffed 75.5px,#9affed 81.5px,#cbffec 86.5px,#f4f9e7 93.5px,#ffdfcf 100.5px,#ffac9f 116.5px,#ff574f 161.5px,#ff332a 175.5px,#ff0c06 186.5px,#ff0100 195.5px)"></i><i style="left:302px;top:186px;width:197px;height:1px;background:linear-gradient(90deg,#00ffef 0.5px,#03ffef 69.5px,#15ffef 72.5px,#3effef 75.5px,#93ffef 80.5px,#cffff0 86.5px,#f3f9eb 92.5px,#ffe0d3 99.5px,#ffaca3 115.5px,#ff6560 152.5px,#ff3b3c 171.5px,#ff080a 186.5px,#f00 196.5px)"></i><i style="left:302px;top:187px;width:198px;height:1px;background:linear-gradient(90deg,#00fff1 0.5px,#04fff2 69.5px,#19fff2 72.5px,#57fff2 76.5px,#98fff2 80.5px,#cbfef2 85.5px,#f5f7ed 92.5px,#ffddd3 99.5px,#ffa7a1 116.5px,#ff4248 167.5px,#ff1323 180.5px,#ff0105 190.5px,#f00 197.5px)"></i><i style="left:302px;top:188px;width:199px;height:1px;background:linear-gradient(90deg,#00fff2 0.5px,#02fff4 68.5px,#13fef5 71.5px,#3afef5 74.5px,#90fef5 79.5px,#c7fef5 84.5px,#f3f8f0 91.5px,#ffe3dc 97.5px,#ffafab 112.5px,#ff696b 147.5px,#ff3d4b 167.5px,#ff0b25 181.5px,#ff0005 192.5px,#f00 198.5px)"></i><i style="left:303px;top:189px;width:199px;height:1px;background:linear-gradient(90deg,#00fff4 0.5px,#03fef7 67.5px,#17fef7 70.5px,#53fef7 74.5px,#96fef7 78.5px,#cafdf8 83.5px,#f1f9f4 89.5px,#ffe0dc 96.5px,#ffafaf 110.5px,#ff6f74 141.5px,#ff4153 163.5px,#ff092f 179.5px,#ff0006 192.5px,#ff0001 198.5px)"></i><i style="left:303px;top:190px;width:200px;height:1px;background:linear-gradient(90deg,#00fff6 0.5px,#02fdf9 66.5px,#10fdf9 69.5px,#48fdf9 73.5px,#8efdf9 77.5px,#c5fcfa 82.5px,#eef8f7 88.5px,#ffe5e5 94.5px,#ffb2b5 108.5px,#ff787f 135.5px,#ff4459 160.5px,#ff0737 178.5px,#ff0005 194.5px,#ff0001 199.5px)"></i><i style="left:303px;top:191px;width:201px;height:1px;background:linear-gradient(90deg,#00fff7 0.5px,#03fcfb 66.5px,#14fcfb 69.5px,#3dfbfb 72.5px,#93fbfb 77.5px,#c0fbfb 81.5px,#f0f6f8 88.5px,#ffe2e5 94.5px,#ffb0b5 108.5px,#ff717d 137.5px,#ff425d 159.5px,#ff0a41 175.5px,#ff001d 187.5px,#ff0004 197.5px,#ff0001 200.5px)"></i><i style="left:303px;top:192px;width:203px;height:1px;background:linear-gradient(90deg,#00fff9 0.5px,#04fbfc 66.5px,#18fbfc 69.5px,#56fafd 73.5px,#98f9fd 77.5px,#cbf8fd 82.5px,#f2f3f9 88.5px,#ffdae1 95.5px,#ffa8b1 110.5px,#ff6878 141.5px,#ff3d5e 159.5px,#ff0847 174.5px,#ff0020 188.5px,#ff0005 198.5px,#ff0001 202.5px)"></i><i style="left:303px;top:193px;width:204px;height:1px;background:linear-gradient(90deg,#00fefa 0.5px,#02f9fd 65.5px,#12f9fd 68.5px,#39f8fe 71.5px,#8ff7fe 76.5px,#c6f6fe 81.5px,#f3f1f9 88.5px,#ffdbe5 94.5px,#ffabb6 108.5px,#ff697c 139.5px,#ff3e63 157.5px,#ff084d 172.5px,#ff0029 187.5px,#ff0005 199.5px,#ff0001 203.5px)"></i><i style="left:304px;top:194px;width:203px;height:1px;background:linear-gradient(90deg,#00fdfc 0.5px,#03f7fe 64.5px,#15f6fe 67.5px,#40f6fe 70.5px,#94f5fe 75.5px,#d0f3fe 81.5px,#f4edfa 87.5px,#ffd3e1 94.5px,#ff9bab 112.5px,#ff4e6e 149.5px,#ff0750 170.5px,#ff002e 186.5px,#ff0005 200.5px,#ff0003 202.5px)"></i><i style="left:304px;top:195px;width:204px;height:1px;background:linear-gradient(90deg,#00fdfd 0.5px,#04f4ff 64.5px,#19f4ff 67.5px,#58f3ff 71.5px,#99f2ff 75.5px,#d2f0ff 81.5px,#f5eafa 87.5px,#fcd 95.5px,#ff9bae 111.5px,#ff4f72 147.5px,#ff0755 168.5px,#ff0036 185.5px,#ff0005 201.5px,#ff0003 203.5px)"></i><i style="left:304px;top:196px;width:206px;height:1px;background:linear-gradient(90deg,#00fbfe 0.5px,#03f2ff 63.5px,#13f2ff 66.5px,#3bf1ff 69.5px,#8fefff 74.5px,#c4eeff 79.5px,#f1e9fc 86.5px,#ffd1e5 93.5px,#ff9bb1 110.5px,#ff5277 144.5px,#ff2164 158.5px,#ff0457 168.5px,#ff0032 188.5px,#ff0005 203.5px,#ff0003 205.5px)"></i><i style="left:304px;top:197px;width:207px;height:1px;background:linear-gradient(90deg,#00fafe 0.5px,#04f0ff 63.5px,#17efff 66.5px,#53eeff 70.5px,#94ecff 74.5px,#c6ebff 79.5px,#f6e3fa 87.5px,#ffc2d9 96.5px,#ff8da7 115.5px,#ff4574 147.5px,#ff085e 164.5px,#ff0047 180.5px,#ff0024 194.5px,#ff0006 204.5px,#ff0004 206.5px)"></i><i style="left:305px;top:198px;width:207px;height:1px;background:linear-gradient(90deg,#00f9ff 0.5px,#02edff 61.5px,#11ecff 64.5px,#36ebff 67.5px,#8beaff 72.5px,#c0e8ff 77.5px,#f2e2fc 85.5px,#ffcbe5 92.5px,#ff96b2 109.5px,#ff4678 144.5px,#ff0862 161.5px,#ff004c 177.5px,#ff002c 192.5px,#ff0008 204.5px,#ff0006 206.5px)"></i><i style="left:305px;top:199px;width:208px;height:1px;background:linear-gradient(90deg,#00f7ff 0.5px,#03ebff 61.5px,#14eaff 64.5px,#4ee8ff 68.5px,#8fe7ff 72.5px,#c2e5ff 77.5px,#f3dffc 85.5px,#ffc8e5 92.5px,#ff94b3 109.5px,#ff477c 142.5px,#ff0966 159.5px,#f05 172.5px,#ff0031 192.5px,#ff000a 205.5px,#ff0009 207.5px)"></i><i style="left:305px;top:200px;width:209px;height:1px;background:linear-gradient(90deg,#00f5ff 0.5px,#04e8ff 61.5px,#18e7ff 64.5px,#43e6ff 67.5px,#93e4ff 72.5px,#c4e2ff 77.5px,#f3dbfc 85.5px,#ffc4e5 92.5px,#ff91b3 109.5px,#ff457e 141.5px,#ff096a 157.5px,#ff0059 170.5px,#ff0035 192.5px,#ff000d 206.5px,#ff000c 208.5px)"></i><i style="left:305px;top:201px;width:210px;height:1px;background:linear-gradient(90deg,#00f3ff 0.5px,#02e6ff 60.5px,#12e4ff 63.5px,#38e3ff 66.5px,#8ae1ff 71.5px,#b6e0ff 75.5px,#ebdbfe 83.5px,#fdccf1 89.5px,#ff98bd 105.5px,#ff5287 135.5px,#ff076c 156.5px,#ff0057 173.5px,#ff0032 195.5px,#ff0012 206.5px,#ff0010 209.5px)"></i><i style="left:306px;top:202px;width:210px;height:1px;background:linear-gradient(90deg,#00f1ff 0.5px,#03e3ff 59.5px,#15e2ff 62.5px,#4fe0ff 66.5px,#8fdeff 70.5px,#c0dcff 75.5px,#f0d6fd 83.5px,#ffc2e9 90.5px,#ff8eb7 107.5px,#ff4384 137.5px,#ff0a71 152.5px,#ff0062 164.5px,#ff0036 194.5px,#ff0016 206.5px,#ff0015 209.5px)"></i><i style="left:306px;top:203px;width:211px;height:1px;background:linear-gradient(90deg,#00f0ff 0.5px,#04e0ff 59.5px,#19dfff 62.5px,#56ddff 66.5px,#93dcff 70.5px,#c9d9ff 76.5px,#f5d1fb 84.5px,#ffb7e1 92.5px,#ff81af 111.5px,#ff4889 134.5px,#ff0873 151.5px,#ff0060 167.5px,#ff0037 195.5px,#ff0019 208.5px,#ff001a 210.5px)"></i><i style="left:306px;top:204px;width:212px;height:1px;background:linear-gradient(90deg,#0ef 0.5px,#03deff 58.5px,#13ddff 61.5px,#4bdbff 65.5px,#97d9ff 70.5px,#cad6ff 76.5px,#f5cefb 84.5px,#ffb4e1 92.5px,#ff7eb0 111.5px,#ff498d 132.5px,#ff0b78 148.5px,#ff006a 160.5px,#ff0038 196.5px,#ff001d 209.5px,#ff001e 211.5px)"></i><i style="left:306px;top:205px;width:213px;height:1px;background:linear-gradient(90deg,#00ecff 0.5px,#04dbff 58.5px,#16daff 61.5px,#51d8ff 65.5px,#8fd6ff 69.5px,#c5d3ff 75.5px,#f6cafb 84.5px,#ffadde 93.5px,#ff77ac 113.5px,#ff438e 132.5px,#ff097a 147.5px,#ff006b 160.5px,#ff0039 197.5px,#ff0021 210.5px,#ff0021 212.5px)"></i><i style="left:307px;top:206px;width:213px;height:1px;background:linear-gradient(90deg,#00eaff 0.5px,#02d9ff 56.5px,#1ad7ff 60.5px,#93d3ff 68.5px,#c7d0ff 74.5px,#f6c7fb 83.5px,#ffaade 92.5px,#ff74ad 112.5px,#ff3d8e 131.5px,#ff0a7e 144.5px,#ff006f 156.5px,#ff003a 197.5px,#ff0024 210.5px,#ff0024 212.5px)"></i><i style="left:307px;top:207px;width:214px;height:1px;background:linear-gradient(90deg,#00e8ff 0.5px,#03d7ff 56.5px,#14d5ff 59.5px,#4cd3ff 63.5px,#8ad1ff 67.5px,#baceff 72.5px,#efc7fe 81.5px,#feb8f0 87.5px,#ff82bb 105.5px,#ff4293 128.5px,#ff0a81 142.5px,#ff0073 154.5px,#ff003b 198.5px,#ff0026 212.5px,#ff0026 213.5px)"></i><i style="left:307px;top:208px;width:215px;height:1px;background:linear-gradient(90deg,#00e7ff 0.5px,#04d4ff 56.5px,#18d3ff 59.5px,#63d0ff 64.5px,#9aceff 68.5px,#d0c9ff 75.5px,#fabef9 84.5px,#ff81be 104.5px,#ff4397 126.5px,#ff0d86 139.5px,#ff0079 149.5px,#ff0039 201.5px,#ff0028 213.5px,#ff0028 214.5px)"></i><i style="left:307px;top:209px;width:216px;height:1px;background:linear-gradient(90deg,#00e5ff 0.5px,#03d2ff 55.5px,#12d1ff 58.5px,#48ceff 62.5px,#92cbff 67.5px,#c4c8ff 73.5px,#f4bffc 82.5px,#ffa7e5 90.5px,#ff71b4 109.5px,#ff4099 125.5px,#ff0b88 138.5px,#ff007a 149.5px,#ff003a 202.5px,#ff0029 215.5px)"></i><i style="left:307px;top:210px;width:216px;height:1px;background:linear-gradient(90deg,#00e3ff 0.5px,#04cfff 55.5px,#15ceff 58.5px,#4eccff 62.5px,#96c9ff 67.5px,#ccc4ff 74.5px,#f4bcfc 82.5px,#ffa3e5 90.5px,#ff6bb3 110.5px,#ff399a 125.5px,#ff0b8b 136.5px,#ff007c 148.5px,#ff003b 203.5px,#ff002b 215.5px)"></i><i style="left:308px;top:211px;width:213px;height:1px;background:linear-gradient(90deg,#00e1ff 0.5px,#02cdff 53.5px,#10ccff 56.5px,#43caff 60.5px,#8ec6ff 65.5px,#c1c2ff 71.5px,#f5b8fc 81.5px,#ff9ade 91.5px,#ff59aa 114.5px,#ff0a8d 134.5px,#ff007e 146.5px,#ff0039 205.5px,#ff002e 212.5px)"></i><i style="left:308px;top:212px;width:211px;height:1px;background:linear-gradient(90deg,#00dfff 0.5px,#03cbff 53.5px,#13c9ff 56.5px,#4ac7ff 60.5px,#92c4ff 65.5px,#c2bfff 71.5px,#f5b5fc 81.5px,#ff96df 91.5px,#ff5aae 112.5px,#ff0a90 132.5px,#ff0082 144.5px,#ff0038 207.5px,#f03 210.5px)"></i><i style="left:308px;top:213px;width:209px;height:1px;background:linear-gradient(90deg,#0df 0.5px,#04c8ff 53.5px,#17c7ff 56.5px,#50c4ff 60.5px,#95c1ff 65.5px,#c4bcff 71.5px,#f6b1fc 81.5px,#ff96e2 90.5px,#ff5bb2 110.5px,#ff0892 131.5px,#ff007f 147.5px,#ff003a 207.5px,#ff0038 208.5px)"></i><i style="left:308px;top:214px;width:206px;height:1px;background:linear-gradient(90deg,#00dcff 0.5px,#02c6ff 52.5px,#11c5ff 55.5px,#45c2ff 59.5px,#82bfff 63.5px,#b2bcff 68.5px,#efb1fe 79.5px,#ff9dec 87.5px,#ff63ba 106.5px,#ff2ba2 120.5px,#ff0996 129.5px,#ff0087 141.5px,#ff0040 205.5px)"></i><i style="left:309px;top:215px;width:203px;height:1px;background:linear-gradient(90deg,#00daff 0.5px,#03c4ff 51.5px,#14c2ff 54.5px,#4bbfff 58.5px,#92bcff 63.5px,#c7b6ff 70.5px,#f6aafc 80.5px,#ff8fe2 89.5px,#ff50b3 109.5px,#ff0b9a 125.5px,#ff008b 137.5px,#f04 202.5px)"></i><i style="left:309px;top:216px;width:201px;height:1px;background:linear-gradient(90deg,#00d8ff 0.5px,#04c1ff 51.5px,#18bfff 54.5px,#51bdff 58.5px,#8abaff 62.5px,#b5b6ff 67.5px,#f0aafe 78.5px,#ff95ec 86.5px,#ff59bb 105.5px,#ff0c9e 123.5px,#ff008f 134.5px,#ff0049 200.5px)"></i><i style="left:309px;top:217px;width:199px;height:1px;background:linear-gradient(90deg,#00d6ff 0.5px,#03bfff 50.5px,#12bdff 53.5px,#37bbff 56.5px,#82b8ff 61.5px,#b0b3ff 66.5px,#e8aaff 76.5px,#fd9bf5 83.5px,#ff5ec2 102.5px,#ff0aa0 122.5px,#ff0090 134.5px,#ff004c 198.5px)"></i><i style="left:309px;top:218px;width:197px;height:1px;background:linear-gradient(90deg,#00d4ff 0.5px,#03bdff 50.5px,#15bbff 53.5px,#4db8ff 57.5px,#86b5ff 61.5px,#b2b0ff 66.5px,#eda5fe 77.5px,#ff91ef 85.5px,#ff51be 104.5px,#ff0da5 119.5px,#ff0096 130.5px,#ff0050 196.5px)"></i><i style="left:310px;top:219px;width:193px;height:1px;background:linear-gradient(90deg,#00d2ff 0.5px,#02bbff 48.5px,#19b8ff 52.5px,#8ab2ff 60.5px,#baacff 66.5px,#f59efd 78.5px,#ff7fe2 88.5px,#ff45bc 104.5px,#ff0ea8 116.5px,#ff009a 126.5px,#f05 192.5px)"></i><i style="left:310px;top:220px;width:191px;height:1px;background:linear-gradient(90deg,#00d0ff 0.5px,#03b8ff 48.5px,#1db5ff 52.5px,#83b0ff 59.5px,#b6aaff 65.5px,#f29cfe 77.5px,#ff86eb 85.5px,#ff42bf 103.5px,#ff0caa 115.5px,#ff009c 125.5px,#ff0058 190.5px)"></i><i style="left:310px;top:221px;width:189px;height:1px;background:linear-gradient(90deg,#00cfff 0.5px,#04b6ff 48.5px,#17b4ff 51.5px,#4eb0ff 55.5px,#86adff 59.5px,#b1a8ff 64.5px,#f298fe 77.5px,#ff82eb 85.5px,#ff3ec1 102.5px,#ff0cae 113.5px,#ff009e 124.5px,#ff005b 188.5px)"></i><i style="left:310px;top:222px;width:187px;height:1px;background:linear-gradient(90deg,#00cdff 0.5px,#03b4ff 47.5px,#11b2ff 50.5px,#44aeff 54.5px,#8aaaff 59.5px,#b9a4ff 65.5px,#f294fe 77.5px,#ff7deb 85.5px,#ff3bc3 101.5px,#ff0db1 111.5px,#ff00a3 121.5px,#ff005e 186.5px)"></i><i style="left:311px;top:223px;width:184px;height:1px;background:linear-gradient(90deg,#00cbff 0.5px,#03b1ff 46.5px,#15afff 49.5px,#4aacff 53.5px,#8ea7ff 58.5px,#c69fff 66.5px,#f68efd 77.5px,#ff71e5 86.5px,#ff32c4 100.5px,#ff0db5 108.5px,#ff00a4 119.5px,#ff0061 183.5px)"></i><i style="left:311px;top:224px;width:181px;height:1px;background:linear-gradient(90deg,#00c9ff 0.5px,#02b0ff 45.5px,#18acff 49.5px,#87a5ff 57.5px,#b69fff 63.5px,#f08efe 75.5px,#f7e 83.5px,#ff33c8 98.5px,#ff0bb7 107.5px,#ff00a6 118.5px,#ff0065 180.5px)"></i><i style="left:311px;top:225px;width:179px;height:1px;background:linear-gradient(90deg,#00c7ff 0.5px,#03adff 45.5px,#12aaff 48.5px,#46a7ff 52.5px,#8aa2ff 57.5px,#b79bff 63.5px,#f08afe 75.5px,#ff72ee 83.5px,#ff2fca 97.5px,#ff09b9 106.5px,#ff00a7 118.5px,#ff0068 177.5px,#ff0068 178.5px)"></i><i style="left:311px;top:226px;width:177px;height:1px;background:linear-gradient(90deg,#00c5ff 0.5px,#04aaff 45.5px,#16a8ff 48.5px,#83a0ff 56.5px,#b399ff 62.5px,#f185fe 75.5px,#ff6cee 83.5px,#ff10c1 102.5px,#ff01b2 111.5px,#ff007d 156.5px,#ff006a 176.5px)"></i><i style="left:312px;top:227px;width:174px;height:1px;background:linear-gradient(90deg,#00c3ff 0.5px,#02a9ff 43.5px,#1aa5ff 47.5px,#869dff 55.5px,#b596ff 61.5px,#f181fe 74.5px,#f6e 82.5px,#ff11c5 99.5px,#ff01b7 107.5px,#ff0080 152.5px,#ff006d 173.5px)"></i><i style="left:312px;top:228px;width:172px;height:1px;background:linear-gradient(90deg,#00c1ff 0.5px,#03a6ff 43.5px,#14a3ff 46.5px,#489fff 50.5px,#8a9aff 55.5px,#bc91ff 62.5px,#f579fd 75.5px,#ff50e5 85.5px,#ff11c9 97.5px,#ff01b9 106.5px,#ff0085 148.5px,#ff006f 171.5px)"></i><i style="left:312px;top:229px;width:169px;height:1px;background:linear-gradient(90deg,#00bfff 0.5px,#04a3ff 43.5px,#229fff 47.5px,#8398ff 54.5px,#b290ff 60.5px,#ef79ff 73.5px,#ff5cf1 81.5px,#ff0ecb 96.5px,#ff00b9 106.5px,#ff0085 148.5px,#ff0073 168.5px)"></i><i style="left:313px;top:230px;width:166px;height:1px;background:linear-gradient(90deg,#00bdff 0.5px,#03a1ff 41.5px,#129fff 44.5px,#449aff 48.5px,#8795ff 53.5px,#bf8aff 61.5px,#f66efd 74.5px,#ff3de5 84.5px,#ff0ccd 94.5px,#ff00b9 105.5px,#ff007f 154.5px,#ff0075 165.5px)"></i><i style="left:313px;top:231px;width:164px;height:1px;background:linear-gradient(90deg,#0bf 0.5px,#039fff 41.5px,#1f9bff 45.5px,#7f93ff 52.5px,#af8bff 58.5px,#ec71ff 71.5px,#ff4af1 80.5px,#ff10d4 91.5px,#ff01c4 99.5px,#ff0090 138.5px,#ff0078 163.5px)"></i><i style="left:313px;top:232px;width:162px;height:1px;background:linear-gradient(90deg,#00b9ff 0.5px,#029dff 40.5px,#1899ff 44.5px,#8390ff 52.5px,#b087ff 58.5px,#ed6bff 71.5px,#fe47f4 79.5px,#ff11d9 89.5px,#ff01c8 97.5px,#ff0096 133.5px,#ff007a 161.5px)"></i><i style="left:313px;top:233px;width:159px;height:1px;background:linear-gradient(90deg,#00b7ff 0.5px,#039aff 40.5px,#1297ff 43.5px,#4593ff 47.5px,#878cff 52.5px,#bd80ff 60.5px,#f060fe 72.5px,#ff36f0 80.5px,#ff0edb 88.5px,#ff00c6 98.5px,#ff0091 138.5px,#ff007e 158.5px)"></i><i style="left:314px;top:234px;width:156px;height:1px;background:linear-gradient(90deg,#00b5ff 0.5px,#0497ff 39.5px,#1694ff 42.5px,#4b8fff 46.5px,#8a89ff 51.5px,#be7bff 59.5px,#ee5dff 70.5px,#ff2cf0 79.5px,#ff0cde 86.5px,#ff00c9 96.5px,#ff0098 131.5px,#ff0080 155.5px)"></i><i style="left:314px;top:235px;width:154px;height:1px;background:linear-gradient(90deg,#00b3ff 0.5px,#0396ff 38.5px,#1192ff 41.5px,#418eff 45.5px,#8487ff 50.5px,#b57bff 57.5px,#ee54ff 70.5px,#ff22f0 79.5px,#ff07de 86.5px,#ff00be 102.5px,#ff0086 149.5px,#ff0083 153.5px)"></i><i style="left:314px;top:236px;width:152px;height:1px;background:linear-gradient(90deg,#00b1ff 0.5px,#0393ff 38.5px,#148fff 41.5px,#478aff 45.5px,#8783ff 50.5px,#b676ff 57.5px,#e754ff 68.5px,#fe23f5 77.5px,#ff05e0 85.5px,#ff00ae 113.5px,#ff0085 151.5px)"></i><i style="left:315px;top:237px;width:149px;height:1px;background:linear-gradient(90deg,#00aeff 0.5px,#0291ff 36.5px,#188cff 40.5px,#8081ff 48.5px,#ad76ff 54.5px,#e054ff 65.5px,#fd1ff8 75.5px,#ff06e5 82.5px,#ff00c1 100.5px,#ff008d 142.5px,#f08 148.5px)"></i><i style="left:315px;top:238px;width:146px;height:1px;background:linear-gradient(90deg,#00acff 0.5px,#038eff 36.5px,#1b89ff 40.5px,#847dff 48.5px,#b46fff 55.5px,#e14bff 65.5px,#fc1bfa 74.5px,#ff03e5 82.5px,#ff00b3 109.5px,#ff008b 145.5px)"></i><i style="left:315px;top:239px;width:144px;height:1px;background:linear-gradient(90deg,#0af 0.5px,#038bff 36.5px,#1587ff 39.5px,#8779ff 48.5px,#bb67ff 56.5px,#e53cff 66.5px,#fd0ff8 75.5px,#ff00de 85.5px,#f0a 116.5px,#ff008d 143.5px)"></i><i style="left:316px;top:240px;width:141px;height:1px;background:linear-gradient(90deg,#00a8ff 0.5px,#0289ff 34.5px,#1984ff 38.5px,#8177ff 46.5px,#b763ff 54.5px,#e237ff 64.5px,#fc0cf9 73.5px,#ff00de 84.5px,#ff00ac 114.5px,#ff0090 140.5px)"></i><i style="left:316px;top:241px;width:139px;height:1px;background:linear-gradient(90deg,#00a6ff 0.5px,#0386ff 34.5px,#1d81ff 38.5px,#7975ff 45.5px,#a269ff 50.5px,#d73dff 61.5px,#f90dfd 71.5px,#ff00e5 81.5px,#ff00b3 109.5px,#ff0092 138.5px)"></i><i style="left:316px;top:242px;width:137px;height:1px;background:linear-gradient(90deg,#00a4ff 0.5px,#0483ff 34.5px,#167fff 37.5px,#7d70ff 45.5px,#a960ff 51.5px,#df28ff 63.5px,#f908fd 71.5px,#ff00de 84.5px,#ff00ad 114.5px,#ff0095 136.5px)"></i><i style="left:317px;top:243px;width:133px;height:1px;background:linear-gradient(90deg,#00a1ff 0.5px,#0381ff 32.5px,#117cff 35.5px,#4176ff 39.5px,#816bff 44.5px,#b055ff 51.5px,#ee0eff 66.5px,#ff00f2 75.5px,#ff00bc 102.5px,#ff0098 132.5px)"></i><i style="left:317px;top:244px;width:131px;height:1px;background:linear-gradient(90deg,#009fff 0.5px,#037eff 32.5px,#1479ff 35.5px,#556fff 40.5px,#8c63ff 45.5px,#bc44ff 53.5px,#eb0bff 65.5px,#fe00f5 74.5px,#ff00c4 97.5px,#ff009b 130.5px)"></i><i style="left:317px;top:245px;width:129px;height:1px;background:linear-gradient(90deg,#009dff 0.5px,#027cff 31.5px,#1875ff 35.5px,#7e63ff 43.5px,#ae49ff 50.5px,#e10fff 62.5px,#fd00f9 72.5px,#ff00c4 97.5px,#ff009d 128.5px)"></i><i style="left:318px;top:246px;width:126px;height:1px;background:linear-gradient(90deg,#009aff 0.5px,#0378ff 30.5px,#1273ff 33.5px,#436bff 37.5px,#815dff 42.5px,#b53aff 50.5px,#de0cff 60.5px,#fd00f9 71.5px,#ff00c6 95.5px,#ff00a0 125.5px)"></i><i style="left:318px;top:247px;width:124px;height:1px;background:linear-gradient(90deg,#0097ff 0.5px,#0474ff 30.5px,#156fff 33.5px,#7a5aff 41.5px,#a640ff 47.5px,#d70cff 58.5px,#fa00fc 69.5px,#ff00c8 94.5px,#ff00a2 123.5px)"></i><i style="left:319px;top:248px;width:120px;height:1px;background:linear-gradient(90deg,#0094ff 0.5px,#0272ff 28.5px,#196aff 32.5px,#7e53ff 40.5px,#ad31ff 47.5px,#d40aff 56.5px,#fa00fc 68.5px,#ff00c8 93.5px,#ff00a6 119.5px)"></i><i style="left:319px;top:249px;width:118px;height:1px;background:linear-gradient(90deg,#0092ff 0.5px,#036eff 28.5px,#1d65ff 32.5px,#784fff 39.5px,#a92cff 46.5px,#d108ff 55.5px,#fb00fc 68.5px,#ff00bf 99.5px,#ff00a8 117.5px)"></i><i style="left:319px;top:250px;width:116px;height:1px;background:linear-gradient(90deg,#0090ff 0.5px,#026cff 27.5px,#1763ff 31.5px,#7b46ff 39.5px,#ab22ff 46.5px,#ce06ff 54.5px,#fb00fc 68.5px,#ff00c1 98.5px,#ff00ab 115.5px)"></i><i style="left:320px;top:251px;width:113px;height:1px;background:linear-gradient(90deg,#008cff 0.5px,#016aff 25.5px,#1160ff 29.5px,#4153ff 33.5px,#7e3dff 38.5px,#ac19ff 45.5px,#d302ff 54.5px,#fd00fa 68.5px,#ff00c1 97.5px,#ff00ae 112.5px)"></i><i style="left:320px;top:252px;width:111px;height:1px;background:linear-gradient(90deg,#008aff 0.5px,#0067ff 24.5px,#0d5dff 28.5px,#384fff 32.5px,#8234ff 38.5px,#b30fff 46.5px,#db00ff 56.5px,#fd00fa 68.5px,#ff00c3 96.5px,#ff00b1 110.5px)"></i><i style="left:321px;top:253px;width:107px;height:1px;background:linear-gradient(90deg,#0086ff 0.5px,#0163ff 23.5px,#0f57ff 27.5px,#3d47ff 31.5px,#7c2fff 36.5px,#af0cff 44.5px,#db00ff 55.5px,#fd00fa 67.5px,#ff00c3 95.5px,#ff00b4 106.5px)"></i><i style="left:321px;top:254px;width:105px;height:1px;background:linear-gradient(90deg,#0084ff 0.5px,#0060ff 22.5px,#0b54ff 26.5px,#3443ff 30.5px,#752aff 35.5px,#a60cff 42.5px,#d500ff 53.5px,#fb00fb 66.5px,#ff00c2 96.5px,#ff00b7 104.5px)"></i><i style="left:321px;top:255px;width:103px;height:1px;background:linear-gradient(90deg,#0081ff 0.5px,#0060ff 20.5px,#0850ff 25.5px,#2c3fff 29.5px,#7921ff 35.5px,#ad06ff 43.5px,#f000ff 61.5px,#ff00f1 71.5px,#ff00bf 98.5px,#ff00ba 102.5px)"></i><i style="left:322px;top:256px;width:100px;height:1px;background:linear-gradient(90deg,#007dff 0.5px,#005dff 18.5px,#0a48ff 24.5px,#243aff 27.5px,#721dff 33.5px,#9f08ff 39.5px,#d600ff 52.5px,#fd00fa 66.5px,#ff00c5 93.5px,#ff00bd 99.5px)"></i><i style="left:322px;top:257px;width:98px;height:1px;background:linear-gradient(90deg,#007aff 0.5px,#005aff 17.5px,#0745ff 23.5px,#2931ff 27.5px,#7515ff 33.5px,#a005ff 39.5px,#e400ff 56.5px,#fe00f8 67.5px,#ff00c7 92.5px,#ff00c0 97.5px)"></i><i style="left:323px;top:258px;width:94px;height:1px;background:linear-gradient(90deg,#0076ff 0.5px,#0057ff 15.5px,#0541ff 21.5px,#212dff 25.5px,#6f12ff 31.5px,#9605ff 36.5px,#cd00ff 48.5px,#fc00fb 64.5px,#ff00c4 93.5px)"></i><i style="left:323px;top:259px;width:92px;height:1px;background:linear-gradient(90deg,#0073ff 0.5px,#0051ff 15.5px,#0638ff 21.5px,#2623ff 25.5px,#730cff 31.5px,#9e02ff 37.5px,#e200ff 54.5px,#fd00f9 65.5px,#ff00c8 91.5px)"></i><i style="left:323px;top:260px;width:90px;height:1px;background:linear-gradient(90deg,#006fff 0.5px,#0051ff 13.5px,#0433ff 20.5px,#1524ff 23.5px,#7607ff 31.5px,#a500ff 38.5px,#e900ff 56.5px,#ff00f5 67.5px,#ff00cb 89.5px)"></i><i style="left:324px;top:261px;width:87px;height:1px;background:linear-gradient(90deg,#006aff 0.5px,#004aff 12.5px,#0529ff 19.5px,#2317ff 23.5px,#7a04ff 30.5px,#ab00ff 38.5px,#e900ff 55.5px,#ff00f5 66.5px,#ff00ce 86.5px)"></i><i style="left:324px;top:262px;width:85px;height:1px;background:linear-gradient(90deg,#06f 0.5px,#0042ff 12.5px,#0720ff 19.5px,#1c14ff 22.5px,#7303ff 29.5px,#9d00ff 35.5px,#d0f 51.5px,#fe00f9 64.5px,#ff00d1 84.5px)"></i><i style="left:325px;top:263px;width:81px;height:1px;background:linear-gradient(90deg,#005fff 0.5px,#003eff 10.5px,#041cff 17.5px,#200dff 21.5px,#7701ff 28.5px,#a400ff 35.5px,#e400ff 52.5px,#fe00f9 63.5px,#ff00d6 80.5px)"></i><i style="left:325px;top:264px;width:79px;height:1px;background:linear-gradient(90deg,#005aff 0.5px,#0035ff 10.5px,#0514ff 17.5px,#2508ff 21.5px,#7001ff 27.5px,#9600ff 32.5px,#d500ff 47.5px,#fd00fb 62.5px,#ff00da 78.5px)"></i><i style="left:326px;top:265px;width:76px;height:1px;background:linear-gradient(90deg,#0052ff 0.5px,#0312ff 15.5px,#1d07ff 19.5px,#7400ff 26.5px,#9d00ff 32.5px,#dc00ff 48.5px,#fd00fa 61.5px,#ff00de 75.5px)"></i><i style="left:326px;top:266px;width:74px;height:1px;background:linear-gradient(90deg,#004cff 0.5px,#050cff 15.5px,#1705ff 18.5px,#70f 26.5px,#9e00ff 32.5px,#d900ff 47.5px,#fd00fa 61.5px,#ff00e1 73.5px)"></i><i style="left:327px;top:267px;width:71px;height:1px;background:linear-gradient(90deg,#0040ff 0.5px,#010cff 12.5px,#1204ff 16.5px,#4e00ff 21.5px,#8200ff 26.5px,#b200ff 35.5px,#f400ff 55.5px,#ff00ed 66.5px,#ff00e5 70.5px)"></i><i style="left:327px;top:268px;width:68px;height:1px;background:linear-gradient(90deg,#0037ff 0.5px,#000aff 11.5px,#0d03ff 15.5px,#3800ff 19.5px,#7500ff 24.5px,#9c00ff 30.5px,#d700ff 45.5px,#fc00fc 59.5px,#ff00eb 67.5px)"></i><i style="left:328px;top:269px;width:65px;height:1px;background:linear-gradient(90deg,#0029ff 0.5px,#0106ff 10.5px,#1001ff 14.5px,#3d00ff 18.5px,#7800ff 23.5px,#a300ff 30.5px,#e700ff 49.5px,#fe00f8 60.5px,#ff00f0 64.5px)"></i><i style="left:328px;top:270px;width:63px;height:1px;background:linear-gradient(90deg,#0021ff 0.5px,#0005ff 9.5px,#0c01ff 13.5px,#3400ff 17.5px,#7100ff 22.5px,#9a00ff 28.5px,#d500ff 43.5px,#fd00fa 59.5px,#ff00f4 62.5px)"></i><i style="left:329px;top:271px;width:60px;height:1px;background:linear-gradient(90deg,#0015ff 0.5px,#0002ff 8.5px,#0f00ff 12.5px,#3900ff 16.5px,#7500ff 21.5px,#a500ff 29.5px,#e200ff 46.5px,#fe00f8 59.5px)"></i><i style="left:329px;top:272px;width:58px;height:1px;background:linear-gradient(90deg,#000fff 0.5px,#0301ff 9.5px,#1a00ff 13.5px,#7800ff 21.5px,#ac00ff 30.5px,#f000ff 51.5px,#fc00fb 57.5px)"></i><i style="left:330px;top:273px;width:54px;height:1px;background:linear-gradient(90deg,#0007ff 0.5px,#0400ff 8.5px,#1e00ff 12.5px,#7300ff 19.5px,#a400ff 27.5px,#e300ff 45.5px,#f700fe 53.5px)"></i><i style="left:330px;top:274px;width:52px;height:1px;background:linear-gradient(90deg,#0004ff 0.5px,#0500ff 8.5px,#20f 12.5px,#7600ff 19.5px,#a0f 28.5px,#f100ff 50.5px,#f300ff 51.5px)"></i><i style="left:331px;top:275px;width:49px;height:1px;background:linear-gradient(90deg,#0001ff 0.5px,#0700ff 7.5px,#2700ff 11.5px,#6f00ff 17.5px,#9800ff 23.5px,#d200ff 38.5px,#e0f 48.5px)"></i><i style="left:332px;top:276px;width:46px;height:1px;background:linear-gradient(90deg,#00f 0.5px,#0800ff 6.5px,#2b00ff 10.5px,#7300ff 16.5px,#a300ff 24.5px,#e100ff 42.5px,#e900ff 45.5px)"></i><i style="left:332px;top:277px;width:44px;height:1px;background:linear-gradient(90deg,#00f 0.5px,#0a00ff 6.5px,#3000ff 10.5px,#6d00ff 15.5px,#9600ff 21.5px,#d000ff 36.5px,#e400ff 43.5px)"></i><i style="left:333px;top:278px;width:40px;height:1px;background:linear-gradient(90deg,#00f 0.5px,#0700ff 4.5px,#2800ff 8.5px,#7000ff 14.5px,#9800ff 20.5px,#d000ff 35.5px,#dc00ff 39.5px)"></i><i style="left:334px;top:279px;width:37px;height:1px;background:linear-gradient(90deg,#00f 0.5px,#0f00ff 4.5px,#3a00ff 8.5px,#7400ff 13.5px,#a200ff 21.5px,#d700ff 36.5px)"></i><i style="left:335px;top:280px;width:34px;height:1px;background:linear-gradient(90deg,#0300ff 0.5px,#1b00ff 4.5px,#70f 12.5px,#a400ff 20.5px,#d200ff 33.5px)"></i><i style="left:336px;top:281px;width:31px;height:1px;background:linear-gradient(90deg,#0800ff 0.5px,#2a00ff 4.5px,#7100ff 10.5px,#9c00ff 17.5px,#c0f 30.5px)"></i><i style="left:337px;top:282px;width:28px;height:1px;background:linear-gradient(90deg,#1000ff 0.5px,#3b00ff 4.5px,#7400ff 9.5px,#a200ff 17.5px,#c700ff 27.5px)"></i><i style="left:338px;top:283px;width:24px;height:1px;background:linear-gradient(90deg,#1c00ff 0.5px,#6e00ff 7.5px,#9500ff 13.5px,#be00ff 23.5px)"></i><i style="left:339px;top:284px;width:21px;height:1px;background:linear-gradient(90deg,#2b00ff 0.5px,#7200ff 6.5px,#a000ff 14.5px,#b700ff 20.5px)"></i><i style="left:340px;top:285px;width:18px;height:1px;background:linear-gradient(90deg,#3c00ff 0.5px,#7400ff 5.5px,#a200ff 13.5px,#b100ff 17.5px)"></i><i style="left:341px;top:286px;width:15px;height:1px;background:linear-gradient(90deg,#4e00ff 0.5px,#7e00ff 5.5px,#ab00ff 14.5px)"></i><i style="left:342px;top:287px;width:12px;height:1px;background:linear-gradient(90deg,#5d00ff 0.5px,#8600ff 5.5px,#a400ff 11.5px)"></i><i style="left:343px;top:288px;width:8px;height:1px;background:linear-gradient(90deg,#6a00ff 0.5px,#9200ff 6.5px,#9700ff 7.5px)"></i></div>
<svg width="550" height="338" style="position:absolute;left:0;top:0">
<g clip-path="url(#ac2)">
<defs><clipPath id="ac2"><rect x="295" y="19.5" width="246" height="276.9"/></clipPath></defs>
<path d="M347.3,288.5l0,4M347.3,288.5l1.2,3.8M347.2,288.5l1,3.9M347.1,288.5l0.8,3.9M347.1,288.6l0.6,3.9M347,288.6l0,4M346.8,288.6l0,4M346.7,288.6l-1,3.9M346.5,288.5l-1.9,3.5M346.1,288.3l-2.3,3.3M345.7,287.9l-2.5,3.1M345.1,287.4l-2.6,3M344.3,286.7l-2.6,3M343.3,285.8l-2.6,3M341.9,284.7l-2.6,3M340.2,283.2l-2.7,2.9M338.1,281.1l-2.9,2.7M335.4,278l-3.2,2.3M331.9,272.6l-3.5,2M327.5,263.9l-3.7,1.6M321.9,250l-3.8,1.4M314.9,229.5l-3.8,1.1M307.8,201.1l-3.9,0.9M301,165.7l-4,0.6M296.3,127.8l-4,0.3M295,92.8l-4,-0.1M298.1,64l-3.9,-0.9M305.8,45.4l-3.2,-2.4M316.6,38.9l-0.7,-3.9M328.9,41.1l1.3,-3.8M341.3,47.3l1.9,-3.5M353.1,54.6l2.2,-3.3M364.4,62.8l2.4,-3.2M375.5,71.8l2.6,-3.1M386.5,81.5l2.7,-3M397.5,91.5l2.7,-2.9M408.5,101.9l2.8,-2.9M419.4,112.4l2.8,-2.9M430.3,122.9l2.8,-2.9M440.9,133.3l2.8,-2.9M451.3,143.4l2.8,-2.9M461.2,153.1l2.8,-2.9M470.6,162.2l2.8,-2.9M479.1,170.6l2.8,-2.9M486.5,177.8l2.8,-2.9M493,184.2l2.8,-2.9M498.4,189.4l2.8,-2.9M502.8,193.7l2.8,-2.9M506.3,197.1l2.8,-2.9M509.1,199.9l2.8,-2.9M511.3,202l2.8,-2.9M513.2,203.9l2.8,-2.9M514.7,205.4l2.8,-2.9M516,206.6l2.8,-2.9M516.9,207.5l2.8,-2.9M517.6,208.2l2.8,-2.9M518.1,208.7l2.8,-2.9M518.5,209l2.8,-2.9M518.7,209.3l2.8,-2.9M519,209.5l2.8,-2.9M519.2,209.7l2.8,-2.9M519.4,209.9l2.8,-2.9M519.5,210l2.8,-2.9M519.5,210.1l2.8,-2.9M519.6,210.1l2.8,-2.9" stroke="#e8e8e8" stroke-width="0.9" fill="none"/>
<polygon points="347.3,288.5 347.3,288.5 347.3,288.5 347.3,288.5 347.3,288.5 347.3,288.5 347.2,288.5 347.2,288.5 347.2,288.5 347.2,288.5 347.2,288.5 347.2,288.5 347.1,288.5 347.1,288.5 347.1,288.5 347.1,288.5 347.1,288.6 347,288.6 347,288.6 347,288.6 347,288.6 346.9,288.6 346.9,288.6 346.9,288.6 346.8,288.6 346.8,288.6 346.8,288.6 346.7,288.6 346.7,288.6 346.6,288.5 346.6,288.5 346.5,288.5 346.5,288.5 346.4,288.4 346.3,288.4 346.2,288.3 346.1,288.3 346,288.2 345.9,288.1 345.8,288 345.7,287.9 345.6,287.8 345.4,287.7 345.3,287.6 345.1,287.4 344.9,287.3 344.7,287.1 344.5,286.9 344.3,286.7 344.1,286.5 343.9,286.3 343.6,286.1 343.3,285.8 343,285.6 342.7,285.3 342.3,285 341.9,284.7 341.5,284.3 341.1,284 340.7,283.6 340.2,283.2 339.7,282.7 339.2,282.2 338.6,281.7 338.1,281.1 337.5,280.4 336.8,279.7 336.2,278.9 335.4,278 334.6,276.9 333.8,275.6 332.9,274.2 331.9,272.6 330.9,270.8 329.8,268.8 328.7,266.5 327.5,263.9 326.2,260.9 324.8,257.7 323.4,254.1 321.9,250 320.2,245.6 318.5,240.7 316.7,235.4 314.9,229.5 313.1,223.2 311.3,216.3 309.5,208.9 307.8,201.1 306,192.8 304.2,184 302.6,174.9 301,165.7 299.6,156.3 298.3,146.7 297.2,137.2 296.3,127.8 295.6,118.7 295.2,109.7 294.9,101 295,92.8 295.3,84.9 296,77.4 296.9,70.4 298.1,64 299.6,58.4 301.4,53.3 303.5,49 305.8,45.4 308.2,42.7 310.9,40.8 313.7,39.6 316.6,38.9 319.6,38.7 322.7,39.2 325.8,40.1 328.9,41.1 332,42.4 335.1,43.9 338.3,45.6 341.3,47.3 344.3,49 347.3,50.8 350.2,52.7 353.1,54.6 355.9,56.6 358.8,58.6 361.6,60.7 364.4,62.8 367.2,65 369.9,67.2 372.7,69.5 375.5,71.8 378.2,74.2 381,76.6 383.7,79 386.5,81.5 389.2,84 392,86.5 394.7,89 397.5,91.5 400.2,94.1 403,96.7 405.7,99.3 408.5,101.9 411.2,104.5 413.9,107.1 416.7,109.8 419.4,112.4 422.1,115 424.9,117.7 427.6,120.3 430.3,122.9 433,125.5 435.6,128.1 438.3,130.7 440.9,133.3 443.6,135.9 446.2,138.4 448.7,140.9 451.3,143.4 453.8,145.9 456.3,148.3 458.8,150.8 461.2,153.1 463.6,155.5 466,157.8 468.3,160 470.6,162.2 472.8,164.4 474.9,166.5 477,168.6 479.1,170.6 481,172.5 482.9,174.3 484.7,176.1 486.5,177.8 488.2,179.5 489.9,181.1 491.5,182.7 493,184.2 494.4,185.6 495.8,186.9 497.1,188.2 498.4,189.4 499.6,190.6 500.7,191.7 501.8,192.7 502.8,193.7 503.7,194.6 504.6,195.5 505.5,196.4 506.3,197.1 507.1,197.9 507.8,198.6 508.5,199.2 509.1,199.9 509.7,200.4 510.3,201 510.8,201.5 511.3,202 511.8,202.5 512.3,203 512.8,203.5 513.2,203.9 513.6,204.3 514,204.7 514.4,205 514.7,205.4 515.1,205.7 515.4,206 515.7,206.3 516,206.6 516.2,206.8 516.5,207 516.7,207.3 516.9,207.5 517.1,207.7 517.3,207.8 517.4,208 517.6,208.2 517.8,208.3 517.9,208.4 518,208.6 518.1,208.7 518.2,208.8 518.3,208.9 518.4,208.9 518.5,209 518.5,209.1 518.6,209.2 518.7,209.2 518.7,209.3 518.8,209.3 518.9,209.4 518.9,209.4 519,209.5 519,209.5 519.1,209.6 519.1,209.6 519.2,209.7 519.2,209.7 519.3,209.8 519.3,209.8 519.4,209.9 519.4,209.9 519.4,209.9 519.5,210 519.5,210 519.5,210 519.5,210 519.5,210 519.5,210.1 519.6,210.1 519.6,210.1 519.6,210.1 519.6,210.1" fill="none" stroke="#f4f4f4" stroke-width="1.2"/>
<g font-family="Liberation Serif, serif" font-size="10" fill="#d2d43c" stroke="#d2d43c" stroke-width="0.15" text-anchor="middle"><text x="316.4" y="32.1">520</text><text x="374" y="57.4">540</text><text x="418.5" y="96">560</text><text x="461.5" y="139.2">580</text><text x="496.6" y="173.3">600</text><text x="516.2" y="192.1">620</text><text x="532" y="213.4">700</text><text x="301.5" y="209.6">490</text><text x="309.5" y="255.4">480</text><text x="319.7" y="277.9">470</text><text x="325.7" y="288.6">460</text><text x="359.3" y="293.6">380</text></g>
<path fill="#0a6ec4" d="M385.7,144.6H394.9L390.3,152.6ZM387.7,140.4H396.9L392.3,148.4ZM389.9,140.4H399.1L394.5,148.4ZM393,143.6H402.2L397.6,151.6ZM396,146.7H405.2L400.6,154.7ZM399.1,149.8H408.3L403.7,157.8ZM402.2,152.8H411.4L406.8,160.8ZM405.2,155.8H414.4L409.8,163.8ZM408.3,158.6H417.5L412.9,166.6Z"/><g fill="#3c98dc"><circle cx="394.5" cy="143.6" r="0.8"/><circle cx="397.6" cy="146.8" r="0.8"/><circle cx="400.6" cy="149.9" r="0.8"/><circle cx="403.7" cy="153" r="0.8"/><circle cx="406.8" cy="156" r="0.8"/><circle cx="409.8" cy="159" r="0.8"/><circle cx="412.9" cy="161.8" r="0.8"/></g><path fill="#f0460a" d="M398.4,155.4h4.8v4.8h-4.8ZM399.8,156.1h4.8v4.8h-4.8ZM401.2,156.8h4.8v4.8h-4.8ZM402.6,157.5h4.8v4.8h-4.8ZM404,158.2h4.8v4.8h-4.8ZM405.4,158.9h4.8v4.8h-4.8ZM406.8,159.6h4.8v4.8h-4.8ZM408.2,160.3h4.8v4.8h-4.8ZM409.6,161h4.8v4.8h-4.8Z"/><rect x="362" y="154.1" width="6.2" height="7.4" fill="#fca000"/><path fill="none" stroke="#fca000" stroke-width="2.1" d="M362.9,155.4h4.3v4.3h-4.3Z"/><path fill="none" stroke="#fca000" stroke-width="2.1" d="M363.1,156.2h4.3v4.3h-4.3Z"/><path fill="none" stroke="#fca000" stroke-width="2.1" d="M367.2,153.2h4.3v4.3h-4.3Z"/><path fill="none" stroke="#fca000" stroke-width="2.1" d="M372.2,154h4.3v4.3h-4.3Z"/><path fill="none" stroke="#fca000" stroke-width="2.1" d="M378.8,155.7h4.3v4.3h-4.3Z"/><path fill="none" stroke="#fca000" stroke-width="2.1" d="M384.1,157.3h4.3v4.3h-4.3Z"/><path fill="none" stroke="#fca000" stroke-width="2.1" d="M388.9,158.4h4.3v4.3h-4.3Z"/><path fill="none" stroke="#fca000" stroke-width="2.1" d="M393.4,158.9h4.3v4.3h-4.3Z"/><path fill="none" stroke="#fca000" stroke-width="2.1" d="M397.4,159.2h4.3v4.3h-4.3Z"/><path fill="#8c1e96" d="M372.3,162.7 373.7,166.4 377.6,166.6 374.5,169 375.6,172.8 372.3,170.6 369,172.8 370.1,169 367,166.6 370.9,166.4ZM375.5,167 376.9,170.7 380.8,170.9 377.7,173.3 378.8,177.1 375.5,174.9 372.2,177.1 373.3,173.3 370.2,170.9 374.1,170.7ZM374.3,161.3 375.7,165 379.6,165.2 376.5,167.6 377.6,171.4 374.3,169.2 371,171.4 372.1,167.6 369,165.2 372.9,165ZM378.8,160.5 380.2,164.2 384.1,164.4 381,166.8 382.1,170.6 378.8,168.4 375.5,170.6 376.6,166.8 373.5,164.4 377.4,164.2ZM383.7,160.5 385.1,164.2 389,164.4 385.9,166.8 387,170.6 383.7,168.4 380.4,170.6 381.5,166.8 378.4,164.4 382.3,164.2ZM388.2,161.7 389.6,165.4 393.5,165.6 390.4,168 391.5,171.8 388.2,169.6 384.9,171.8 386,168 382.9,165.6 386.8,165.4ZM392.7,162.1 394.1,165.8 398,166 394.9,168.4 396,172.2 392.7,170 389.4,172.2 390.5,168.4 387.4,166 391.3,165.8ZM396.4,162.7 397.8,166.4 401.7,166.6 398.6,169 399.7,172.8 396.4,170.6 393.1,172.8 394.2,169 391.1,166.6 395,166.4ZM400.5,162.8 401.9,166.5 405.8,166.7 402.7,169.1 403.8,172.9 400.5,170.7 397.2,172.9 398.3,169.1 395.2,166.7 399.1,166.5ZM403.2,163 404.6,166.7 408.5,166.9 405.4,169.3 406.5,173.1 403.2,170.9 399.9,173.1 401,169.3 397.9,166.9 401.8,166.7Z"/>
<path d="M407,185 L363.5,179.5" stroke="#000" stroke-width="1"/><path d="M354.1,178.3 L366.3,175.3 L363.3,179.6 L364.8,184.2Z" fill="#000"/>
<g font-family="Liberation Sans, Arial, sans-serif" font-size="11.5" fill="#000">
<text x="331.8" y="180">55°</text><text x="412.8" y="191.8">0°</text></g>
<rect x="459.6" y="29.1" width="71.7" height="61.8" fill="#fff"/>
<path fill="#0a6ec4" d="M476.1,34.9H485.3L480.7,42.9Z"/><circle cx="480.7" cy="38.2" r="0.9" fill="#3c98dc"/>
<path fill="#f0460a" d="M478.5,50.3h4.2v4.2h-4.2Z"/>
<path fill="#fca000" d="M477.3,63.8h6.6v6.6h-6.6Z"/><path fill="#fff" d="M479.7,66.2h1.8v1.8h-1.8Z"/>
<path fill="#8c1e96" d="M480.5,76.2 481.7,79.7 485.4,79.8 482.5,82 483.6,85.6 480.5,83.5 477.4,85.6 478.5,82 475.6,79.8 479.3,79.7Z"/>
<g font-family="Liberation Sans, Arial, sans-serif" font-size="10.4" fill="#222">
<text x="501" y="41.8">p corr</text><text x="501" y="56.3">s corr</text><text x="501" y="70.8">p test</text><text x="501" y="85.3">s test</text></g>
</g>
<path d="M295,19.5H541V296.4H295ZM295,296.4v2.8M295,19.5v-2.8M356.5,296.4v2.8M356.5,19.5v-2.8M418,296.4v2.8M418,19.5v-2.8M479.5,296.4v2.8M479.5,19.5v-2.8M541,296.4v2.8M541,19.5v-2.8M295,296.4h-2.8M541,296.4h2.8M295,265.6h-2.8M541,265.6h2.8M295,234.9h-2.8M541,234.9h2.8M295,204.1h-2.8M541,204.1h2.8M295,173.3h-2.8M541,173.3h2.8M295,142.6h-2.8M541,142.6h2.8M295,111.8h-2.8M541,111.8h2.8M295,81h-2.8M541,81h2.8M295,50.3h-2.8M541,50.3h2.8M295,19.5h-2.8M541,19.5h2.8" stroke="#262626" stroke-width="0.8" fill="none"/>
<g font-family="Liberation Sans, Arial, sans-serif" font-size="11.5" fill="#262626" stroke="#262626" stroke-width="0.18"><text x="295" y="315.4" text-anchor="middle">0</text><text x="356.5" y="315.4" text-anchor="middle">0.2</text><text x="418" y="315.4" text-anchor="middle">0.4</text><text x="479.5" y="315.4" text-anchor="middle">0.6</text><text x="541" y="315.4" text-anchor="middle">0.8</text><text x="287.2" y="300.4" text-anchor="end">0</text><text x="287.2" y="269.6" text-anchor="end">0.1</text><text x="287.2" y="238.9" text-anchor="end">0.2</text><text x="287.2" y="208.1" text-anchor="end">0.3</text><text x="287.2" y="177.3" text-anchor="end">0.4</text><text x="287.2" y="146.6" text-anchor="end">0.5</text><text x="287.2" y="115.8" text-anchor="end">0.6</text><text x="287.2" y="85" text-anchor="end">0.7</text><text x="287.2" y="54.3" text-anchor="end">0.8</text><text x="287.2" y="23.5" text-anchor="end">0.9</text></g>
<text x="417.5" y="332.3" text-anchor="middle" font-family="Liberation Sans, Arial, sans-serif" font-size="12.3" fill="#262626">x</text>
<text transform="translate(263 158) rotate(-90)" text-anchor="middle" font-family="Liberation Sans, Arial, sans-serif" font-size="12.3" fill="#262626">y</text>
</svg>
</body></html>
